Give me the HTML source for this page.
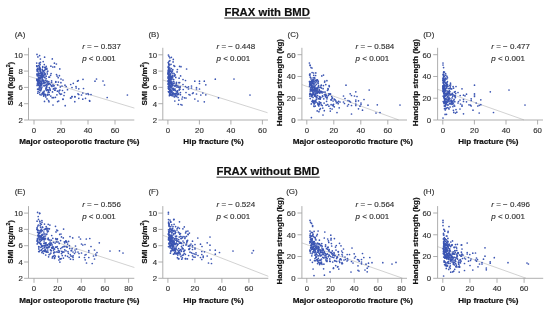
<!DOCTYPE html>
<html><head><meta charset="utf-8"><title>FRAX scatter plots</title>
<style>html,body{margin:0;padding:0;background:#fff}svg{display:block;filter:blur(0.35px)}</style></head>
<body>
<svg width="550" height="311" viewBox="0 0 550 311" font-family="'Liberation Sans', Arial, sans-serif">
<rect width="550" height="311" fill="#fff"/>
<text x="267.2" y="16.2" text-anchor="middle" font-size="11.3" font-weight="bold" fill="#111" stroke="#111" stroke-width="0.2">FRAX with BMD</text>
<rect x="224.3" y="17.6" width="85.8" height="0.9" fill="#111"/>
<text x="268" y="174.8" text-anchor="middle" font-size="11.3" font-weight="bold" fill="#111" stroke="#111" stroke-width="0.2">FRAX without BMD</text>
<rect x="216.5" y="176.7" width="103.2" height="0.9" fill="#111"/>
<g transform="translate(0,0.0)">
<text x="14.7" y="36.9" font-size="8.0" fill="#333" stroke="#333" stroke-width="0.15">(A)</text>
<text x="82.2" y="48.7" font-size="8.0" fill="#333" stroke="#333" stroke-width="0.15"><tspan font-style="italic">r</tspan> = − 0.537</text>
<text x="82.2" y="60.55" font-size="8.0" fill="#333" stroke="#333" stroke-width="0.15"><tspan font-style="italic">p</tspan> &lt; 0.001</text>
<line x1="28.5" y1="76.2" x2="134.4" y2="108.1" stroke="#cdcdcd" stroke-width="0.9"/>
<path d="M28.5 47.8V120.0H134.3" fill="none" stroke="#a0a0a0" stroke-width="0.85"/>
<line x1="24.1" y1="120.00" x2="28.5" y2="120.00" stroke="#a0a0a0" stroke-width="0.85"/>
<text x="22.9" y="122.80" text-anchor="end" font-size="7.8" fill="#333" stroke="#333" stroke-width="0.15">2</text>
<line x1="24.1" y1="103.70" x2="28.5" y2="103.70" stroke="#a0a0a0" stroke-width="0.85"/>
<text x="22.9" y="106.50" text-anchor="end" font-size="7.8" fill="#333" stroke="#333" stroke-width="0.15">4</text>
<line x1="24.1" y1="87.40" x2="28.5" y2="87.40" stroke="#a0a0a0" stroke-width="0.85"/>
<text x="22.9" y="90.20" text-anchor="end" font-size="7.8" fill="#333" stroke="#333" stroke-width="0.15">6</text>
<line x1="24.1" y1="71.10" x2="28.5" y2="71.10" stroke="#a0a0a0" stroke-width="0.85"/>
<text x="22.9" y="73.90" text-anchor="end" font-size="7.8" fill="#333" stroke="#333" stroke-width="0.15">8</text>
<line x1="24.1" y1="54.80" x2="28.5" y2="54.80" stroke="#a0a0a0" stroke-width="0.85"/>
<text x="22.9" y="57.60" text-anchor="end" font-size="7.8" fill="#333" stroke="#333" stroke-width="0.15">10</text>
<line x1="34.00" y1="120.0" x2="34.00" y2="124.5" stroke="#a0a0a0" stroke-width="0.85"/>
<text x="34.00" y="132.90" text-anchor="middle" font-size="7.8" fill="#333" stroke="#333" stroke-width="0.15">0</text>
<line x1="61.00" y1="120.0" x2="61.00" y2="124.5" stroke="#a0a0a0" stroke-width="0.85"/>
<text x="61.00" y="132.90" text-anchor="middle" font-size="7.8" fill="#333" stroke="#333" stroke-width="0.15">20</text>
<line x1="88.00" y1="120.0" x2="88.00" y2="124.5" stroke="#a0a0a0" stroke-width="0.85"/>
<text x="88.00" y="132.90" text-anchor="middle" font-size="7.8" fill="#333" stroke="#333" stroke-width="0.15">40</text>
<line x1="115.00" y1="120.0" x2="115.00" y2="124.5" stroke="#a0a0a0" stroke-width="0.85"/>
<text x="115.00" y="132.90" text-anchor="middle" font-size="7.8" fill="#333" stroke="#333" stroke-width="0.15">60</text>
<text x="79.3" y="144.3" text-anchor="middle" font-size="8.1" font-weight="bold" fill="#111" stroke="#111" stroke-width="0.2">Major osteoporotic fracture (%)</text>
<text transform="translate(13.0,83.6) rotate(-90)" text-anchor="middle" font-size="8.1" font-weight="bold" fill="#111" stroke="#111" stroke-width="0.2">SMI (kg/m<tspan font-size="5.2" dy="-3">2</tspan><tspan dy="3">)</tspan></text>
<g fill="#3b55b2">
<circle cx="36.7" cy="63.1" r="0.85"/>
<circle cx="36.8" cy="66.2" r="0.85"/>
<circle cx="36.8" cy="80.1" r="0.85"/>
<circle cx="36.8" cy="65.8" r="0.85"/>
<circle cx="36.9" cy="79.3" r="0.85"/>
<circle cx="36.9" cy="66.4" r="0.85"/>
<circle cx="37.0" cy="69.9" r="0.85"/>
<circle cx="37.0" cy="79.3" r="0.85"/>
<circle cx="37.1" cy="85.5" r="0.85"/>
<circle cx="37.1" cy="73.8" r="0.85"/>
<circle cx="37.1" cy="74.6" r="0.85"/>
<circle cx="37.2" cy="71.3" r="0.85"/>
<circle cx="37.3" cy="75.0" r="0.85"/>
<circle cx="37.3" cy="69.5" r="0.85"/>
<circle cx="37.3" cy="83.9" r="0.85"/>
<circle cx="37.4" cy="75.9" r="0.85"/>
<circle cx="37.4" cy="80.8" r="0.85"/>
<circle cx="37.5" cy="68.3" r="0.85"/>
<circle cx="37.6" cy="89.2" r="0.85"/>
<circle cx="37.6" cy="81.9" r="0.85"/>
<circle cx="37.7" cy="80.1" r="0.85"/>
<circle cx="37.7" cy="70.7" r="0.85"/>
<circle cx="37.8" cy="93.2" r="0.85"/>
<circle cx="37.8" cy="81.5" r="0.85"/>
<circle cx="37.9" cy="56.9" r="0.85"/>
<circle cx="37.9" cy="81.4" r="0.85"/>
<circle cx="38.0" cy="79.4" r="0.85"/>
<circle cx="38.1" cy="74.9" r="0.85"/>
<circle cx="38.1" cy="91.4" r="0.85"/>
<circle cx="38.1" cy="83.5" r="0.85"/>
<circle cx="38.2" cy="80.9" r="0.85"/>
<circle cx="38.3" cy="84.7" r="0.85"/>
<circle cx="38.3" cy="84.2" r="0.85"/>
<circle cx="38.4" cy="83.6" r="0.85"/>
<circle cx="38.4" cy="72.0" r="0.85"/>
<circle cx="38.4" cy="82.1" r="0.85"/>
<circle cx="38.5" cy="85.3" r="0.85"/>
<circle cx="38.5" cy="77.3" r="0.85"/>
<circle cx="38.6" cy="81.9" r="0.85"/>
<circle cx="38.6" cy="73.6" r="0.85"/>
<circle cx="38.6" cy="79.7" r="0.85"/>
<circle cx="38.6" cy="79.0" r="0.85"/>
<circle cx="38.7" cy="80.0" r="0.85"/>
<circle cx="38.7" cy="65.5" r="0.85"/>
<circle cx="38.8" cy="80.9" r="0.85"/>
<circle cx="38.8" cy="75.8" r="0.85"/>
<circle cx="38.8" cy="89.4" r="0.85"/>
<circle cx="38.8" cy="89.0" r="0.85"/>
<circle cx="38.9" cy="78.5" r="0.85"/>
<circle cx="38.9" cy="74.9" r="0.85"/>
<circle cx="39.0" cy="69.5" r="0.85"/>
<circle cx="39.0" cy="81.0" r="0.85"/>
<circle cx="39.0" cy="84.3" r="0.85"/>
<circle cx="39.1" cy="75.4" r="0.85"/>
<circle cx="39.1" cy="68.9" r="0.85"/>
<circle cx="39.2" cy="68.9" r="0.85"/>
<circle cx="39.2" cy="78.3" r="0.85"/>
<circle cx="39.2" cy="87.8" r="0.85"/>
<circle cx="39.3" cy="63.0" r="0.85"/>
<circle cx="39.3" cy="66.4" r="0.85"/>
<circle cx="39.3" cy="67.5" r="0.85"/>
<circle cx="39.4" cy="83.3" r="0.85"/>
<circle cx="39.4" cy="63.7" r="0.85"/>
<circle cx="39.5" cy="86.0" r="0.85"/>
<circle cx="39.5" cy="92.5" r="0.85"/>
<circle cx="39.6" cy="80.4" r="0.85"/>
<circle cx="39.6" cy="68.1" r="0.85"/>
<circle cx="39.7" cy="82.7" r="0.85"/>
<circle cx="39.7" cy="73.3" r="0.85"/>
<circle cx="39.7" cy="77.4" r="0.85"/>
<circle cx="39.8" cy="86.1" r="0.85"/>
<circle cx="39.8" cy="67.3" r="0.85"/>
<circle cx="39.8" cy="87.0" r="0.85"/>
<circle cx="39.9" cy="90.5" r="0.85"/>
<circle cx="39.9" cy="94.4" r="0.85"/>
<circle cx="40.0" cy="88.8" r="0.85"/>
<circle cx="40.0" cy="71.0" r="0.85"/>
<circle cx="40.1" cy="77.4" r="0.85"/>
<circle cx="40.1" cy="64.7" r="0.85"/>
<circle cx="40.2" cy="70.6" r="0.85"/>
<circle cx="40.2" cy="85.6" r="0.85"/>
<circle cx="40.3" cy="68.7" r="0.85"/>
<circle cx="40.3" cy="81.5" r="0.85"/>
<circle cx="40.3" cy="78.6" r="0.85"/>
<circle cx="40.4" cy="62.4" r="0.85"/>
<circle cx="40.4" cy="75.6" r="0.85"/>
<circle cx="40.5" cy="69.6" r="0.85"/>
<circle cx="40.5" cy="78.6" r="0.85"/>
<circle cx="40.5" cy="83.7" r="0.85"/>
<circle cx="40.6" cy="73.2" r="0.85"/>
<circle cx="40.6" cy="90.7" r="0.85"/>
<circle cx="40.7" cy="71.4" r="0.85"/>
<circle cx="40.7" cy="85.0" r="0.85"/>
<circle cx="40.7" cy="81.1" r="0.85"/>
<circle cx="40.8" cy="77.8" r="0.85"/>
<circle cx="40.8" cy="90.0" r="0.85"/>
<circle cx="40.9" cy="77.1" r="0.85"/>
<circle cx="40.9" cy="83.7" r="0.85"/>
<circle cx="40.9" cy="87.3" r="0.85"/>
<circle cx="41.0" cy="84.5" r="0.85"/>
<circle cx="41.0" cy="85.7" r="0.85"/>
<circle cx="41.1" cy="75.0" r="0.85"/>
<circle cx="41.1" cy="94.9" r="0.85"/>
<circle cx="41.2" cy="77.0" r="0.85"/>
<circle cx="41.2" cy="72.6" r="0.85"/>
<circle cx="41.2" cy="73.3" r="0.85"/>
<circle cx="41.3" cy="89.0" r="0.85"/>
<circle cx="41.3" cy="74.9" r="0.85"/>
<circle cx="41.4" cy="88.6" r="0.85"/>
<circle cx="41.4" cy="82.3" r="0.85"/>
<circle cx="41.4" cy="76.9" r="0.85"/>
<circle cx="41.5" cy="83.9" r="0.85"/>
<circle cx="41.5" cy="82.7" r="0.85"/>
<circle cx="41.6" cy="83.0" r="0.85"/>
<circle cx="41.6" cy="75.4" r="0.85"/>
<circle cx="41.7" cy="72.5" r="0.85"/>
<circle cx="41.7" cy="76.5" r="0.85"/>
<circle cx="41.7" cy="83.6" r="0.85"/>
<circle cx="41.8" cy="84.9" r="0.85"/>
<circle cx="41.8" cy="75.1" r="0.85"/>
<circle cx="41.9" cy="83.3" r="0.85"/>
<circle cx="41.9" cy="81.2" r="0.85"/>
<circle cx="42.0" cy="87.0" r="0.85"/>
<circle cx="42.0" cy="73.8" r="0.85"/>
<circle cx="42.1" cy="93.7" r="0.85"/>
<circle cx="42.1" cy="78.9" r="0.85"/>
<circle cx="42.2" cy="80.1" r="0.85"/>
<circle cx="42.2" cy="76.8" r="0.85"/>
<circle cx="42.3" cy="69.4" r="0.85"/>
<circle cx="42.3" cy="73.2" r="0.85"/>
<circle cx="42.4" cy="77.8" r="0.85"/>
<circle cx="42.4" cy="75.1" r="0.85"/>
<circle cx="42.5" cy="70.3" r="0.85"/>
<circle cx="42.5" cy="93.3" r="0.85"/>
<circle cx="42.6" cy="74.3" r="0.85"/>
<circle cx="42.7" cy="76.9" r="0.85"/>
<circle cx="42.7" cy="66.5" r="0.85"/>
<circle cx="42.7" cy="67.3" r="0.85"/>
<circle cx="42.8" cy="79.8" r="0.85"/>
<circle cx="42.9" cy="76.5" r="0.85"/>
<circle cx="42.9" cy="80.4" r="0.85"/>
<circle cx="42.9" cy="92.3" r="0.85"/>
<circle cx="43.0" cy="76.5" r="0.85"/>
<circle cx="43.1" cy="73.0" r="0.85"/>
<circle cx="43.1" cy="94.2" r="0.85"/>
<circle cx="43.2" cy="61.6" r="0.85"/>
<circle cx="43.2" cy="71.6" r="0.85"/>
<circle cx="43.3" cy="92.5" r="0.85"/>
<circle cx="43.3" cy="71.1" r="0.85"/>
<circle cx="43.4" cy="81.3" r="0.85"/>
<circle cx="43.4" cy="71.0" r="0.85"/>
<circle cx="43.5" cy="80.7" r="0.85"/>
<circle cx="43.6" cy="81.6" r="0.85"/>
<circle cx="43.6" cy="95.6" r="0.85"/>
<circle cx="43.7" cy="96.1" r="0.85"/>
<circle cx="43.7" cy="75.2" r="0.85"/>
<circle cx="43.8" cy="92.0" r="0.85"/>
<circle cx="43.8" cy="82.9" r="0.85"/>
<circle cx="43.9" cy="93.4" r="0.85"/>
<circle cx="44.0" cy="83.6" r="0.85"/>
<circle cx="44.0" cy="85.6" r="0.85"/>
<circle cx="44.1" cy="85.8" r="0.85"/>
<circle cx="44.1" cy="94.6" r="0.85"/>
<circle cx="44.2" cy="91.1" r="0.85"/>
<circle cx="44.3" cy="64.6" r="0.85"/>
<circle cx="44.4" cy="82.4" r="0.85"/>
<circle cx="44.4" cy="72.8" r="0.85"/>
<circle cx="44.5" cy="77.6" r="0.85"/>
<circle cx="44.5" cy="101.4" r="0.85"/>
<circle cx="44.6" cy="57.2" r="0.85"/>
<circle cx="44.7" cy="70.7" r="0.85"/>
<circle cx="44.7" cy="67.3" r="0.85"/>
<circle cx="44.8" cy="77.2" r="0.85"/>
<circle cx="44.9" cy="74.6" r="0.85"/>
<circle cx="45.0" cy="74.7" r="0.85"/>
<circle cx="45.1" cy="73.7" r="0.85"/>
<circle cx="45.2" cy="94.3" r="0.85"/>
<circle cx="45.2" cy="80.4" r="0.85"/>
<circle cx="45.3" cy="69.2" r="0.85"/>
<circle cx="45.4" cy="85.3" r="0.85"/>
<circle cx="45.4" cy="69.0" r="0.85"/>
<circle cx="45.5" cy="94.8" r="0.85"/>
<circle cx="45.6" cy="67.5" r="0.85"/>
<circle cx="45.6" cy="95.4" r="0.85"/>
<circle cx="45.8" cy="96.9" r="0.85"/>
<circle cx="45.8" cy="82.7" r="0.85"/>
<circle cx="45.9" cy="88.0" r="0.85"/>
<circle cx="46.0" cy="89.6" r="0.85"/>
<circle cx="46.1" cy="78.7" r="0.85"/>
<circle cx="46.1" cy="88.6" r="0.85"/>
<circle cx="46.2" cy="66.3" r="0.85"/>
<circle cx="46.2" cy="76.2" r="0.85"/>
<circle cx="46.4" cy="84.3" r="0.85"/>
<circle cx="46.5" cy="90.5" r="0.85"/>
<circle cx="46.5" cy="86.5" r="0.85"/>
<circle cx="46.6" cy="81.0" r="0.85"/>
<circle cx="46.7" cy="87.2" r="0.85"/>
<circle cx="46.8" cy="69.3" r="0.85"/>
<circle cx="46.8" cy="68.3" r="0.85"/>
<circle cx="47.0" cy="98.9" r="0.85"/>
<circle cx="47.0" cy="85.4" r="0.85"/>
<circle cx="47.1" cy="81.1" r="0.85"/>
<circle cx="47.2" cy="72.0" r="0.85"/>
<circle cx="47.3" cy="73.9" r="0.85"/>
<circle cx="47.4" cy="94.9" r="0.85"/>
<circle cx="47.5" cy="82.0" r="0.85"/>
<circle cx="47.5" cy="89.5" r="0.85"/>
<circle cx="47.7" cy="94.4" r="0.85"/>
<circle cx="47.7" cy="94.8" r="0.85"/>
<circle cx="47.8" cy="71.2" r="0.85"/>
<circle cx="47.9" cy="83.9" r="0.85"/>
<circle cx="48.0" cy="90.1" r="0.85"/>
<circle cx="48.1" cy="83.2" r="0.85"/>
<circle cx="48.2" cy="90.2" r="0.85"/>
<circle cx="48.3" cy="84.4" r="0.85"/>
<circle cx="48.3" cy="92.4" r="0.85"/>
<circle cx="48.4" cy="91.9" r="0.85"/>
<circle cx="48.6" cy="100.7" r="0.85"/>
<circle cx="48.8" cy="77.0" r="0.85"/>
<circle cx="48.8" cy="81.6" r="0.85"/>
<circle cx="49.1" cy="92.3" r="0.85"/>
<circle cx="49.2" cy="94.7" r="0.85"/>
<circle cx="49.3" cy="87.6" r="0.85"/>
<circle cx="49.5" cy="77.2" r="0.85"/>
<circle cx="49.6" cy="83.7" r="0.85"/>
<circle cx="49.9" cy="88.9" r="0.85"/>
<circle cx="50.0" cy="89.8" r="0.85"/>
<circle cx="50.2" cy="90.3" r="0.85"/>
<circle cx="50.3" cy="84.5" r="0.85"/>
<circle cx="50.6" cy="75.3" r="0.85"/>
<circle cx="50.8" cy="96.1" r="0.85"/>
<circle cx="50.9" cy="66.2" r="0.85"/>
<circle cx="51.1" cy="73.5" r="0.85"/>
<circle cx="51.3" cy="85.7" r="0.85"/>
<circle cx="51.6" cy="80.9" r="0.85"/>
<circle cx="51.6" cy="82.5" r="0.85"/>
<circle cx="51.8" cy="85.6" r="0.85"/>
<circle cx="52.0" cy="86.5" r="0.85"/>
<circle cx="52.2" cy="97.7" r="0.85"/>
<circle cx="52.3" cy="58.9" r="0.85"/>
<circle cx="52.5" cy="91.9" r="0.85"/>
<circle cx="52.8" cy="67.0" r="0.85"/>
<circle cx="53.0" cy="84.8" r="0.85"/>
<circle cx="53.3" cy="89.0" r="0.85"/>
<circle cx="53.5" cy="86.0" r="0.85"/>
<circle cx="53.6" cy="97.7" r="0.85"/>
<circle cx="53.8" cy="88.5" r="0.85"/>
<circle cx="54.1" cy="85.6" r="0.85"/>
<circle cx="54.4" cy="63.2" r="0.85"/>
<circle cx="54.6" cy="66.9" r="0.85"/>
<circle cx="54.7" cy="90.2" r="0.85"/>
<circle cx="55.0" cy="88.2" r="0.85"/>
<circle cx="55.3" cy="90.0" r="0.85"/>
<circle cx="55.4" cy="97.3" r="0.85"/>
<circle cx="55.7" cy="82.2" r="0.85"/>
<circle cx="55.8" cy="81.7" r="0.85"/>
<circle cx="56.0" cy="88.3" r="0.85"/>
<circle cx="56.4" cy="64.0" r="0.85"/>
<circle cx="56.5" cy="74.6" r="0.85"/>
<circle cx="56.9" cy="94.8" r="0.85"/>
<circle cx="57.1" cy="76.1" r="0.85"/>
<circle cx="57.4" cy="91.2" r="0.85"/>
<circle cx="57.6" cy="101.6" r="0.85"/>
<circle cx="57.7" cy="84.9" r="0.85"/>
<circle cx="58.2" cy="77.7" r="0.85"/>
<circle cx="58.4" cy="82.1" r="0.85"/>
<circle cx="58.7" cy="101.0" r="0.85"/>
<circle cx="58.9" cy="92.0" r="0.85"/>
<circle cx="59.2" cy="90.7" r="0.85"/>
<circle cx="59.4" cy="75.7" r="0.85"/>
<circle cx="59.6" cy="93.5" r="0.85"/>
<circle cx="59.9" cy="90.1" r="0.85"/>
<circle cx="60.3" cy="86.9" r="0.85"/>
<circle cx="60.5" cy="94.3" r="0.85"/>
<circle cx="60.9" cy="82.7" r="0.85"/>
<circle cx="83.0" cy="79.3" r="0.85"/>
<circle cx="78.3" cy="80.5" r="0.85"/>
<circle cx="77.5" cy="81.2" r="0.85"/>
<circle cx="73.3" cy="83.3" r="0.85"/>
<circle cx="70.7" cy="84.5" r="0.85"/>
<circle cx="65.0" cy="85.2" r="0.85"/>
<circle cx="66.2" cy="86.5" r="0.85"/>
<circle cx="62.0" cy="86.0" r="0.85"/>
<circle cx="63.0" cy="80.0" r="0.85"/>
<circle cx="61.0" cy="79.0" r="0.85"/>
<circle cx="72.0" cy="87.5" r="0.85"/>
<circle cx="76.0" cy="86.5" r="0.85"/>
<circle cx="76.2" cy="88.0" r="0.85"/>
<circle cx="78.8" cy="88.8" r="0.85"/>
<circle cx="83.5" cy="88.5" r="0.85"/>
<circle cx="67.5" cy="89.7" r="0.85"/>
<circle cx="62.5" cy="90.5" r="0.85"/>
<circle cx="64.5" cy="92.5" r="0.85"/>
<circle cx="61.5" cy="94.0" r="0.85"/>
<circle cx="64.0" cy="95.5" r="0.85"/>
<circle cx="78.0" cy="93.8" r="0.85"/>
<circle cx="78.8" cy="94.5" r="0.85"/>
<circle cx="82.8" cy="93.0" r="0.85"/>
<circle cx="81.5" cy="95.0" r="0.85"/>
<circle cx="86.2" cy="94.0" r="0.85"/>
<circle cx="88.0" cy="93.5" r="0.85"/>
<circle cx="88.5" cy="94.5" r="0.85"/>
<circle cx="91.0" cy="94.5" r="0.85"/>
<circle cx="72.0" cy="96.5" r="0.85"/>
<circle cx="70.5" cy="98.0" r="0.85"/>
<circle cx="75.0" cy="96.8" r="0.85"/>
<circle cx="78.8" cy="98.3" r="0.85"/>
<circle cx="82.8" cy="99.2" r="0.85"/>
<circle cx="85.5" cy="98.3" r="0.85"/>
<circle cx="63.0" cy="99.3" r="0.85"/>
<circle cx="89.5" cy="100.5" r="0.85"/>
<circle cx="96.5" cy="79.0" r="0.85"/>
<circle cx="95.0" cy="81.2" r="0.85"/>
<circle cx="103.0" cy="81.0" r="0.85"/>
<circle cx="104.5" cy="85.0" r="0.85"/>
<circle cx="107.2" cy="97.5" r="0.85"/>
<circle cx="127.4" cy="95.0" r="0.85"/>
<circle cx="65.2" cy="105.7" r="0.85"/>
<circle cx="74.8" cy="101.7" r="0.85"/>
<circle cx="71.0" cy="98.0" r="0.85"/>
<circle cx="72.0" cy="96.7" r="0.85"/>
<circle cx="74.8" cy="96.7" r="0.85"/>
<circle cx="89.7" cy="101.2" r="0.85"/>
<circle cx="63.0" cy="99.2" r="0.85"/>
<circle cx="37.0" cy="54.4" r="0.85"/>
<circle cx="39.6" cy="55.6" r="0.85"/>
<circle cx="40.4" cy="59.0" r="0.85"/>
<circle cx="59.8" cy="68.9" r="0.85"/>
<circle cx="53.0" cy="105.0" r="0.85"/>
<circle cx="49.0" cy="101.8" r="0.85"/>
</g>
</g>
<g transform="translate(0,0.0)">
<text x="148.4" y="36.9" font-size="8.0" fill="#333" stroke="#333" stroke-width="0.15">(B)</text>
<text x="216.5" y="48.7" font-size="8.0" fill="#333" stroke="#333" stroke-width="0.15"><tspan font-style="italic">r</tspan> = − 0.448</text>
<text x="216.5" y="60.55" font-size="8.0" fill="#333" stroke="#333" stroke-width="0.15"><tspan font-style="italic">p</tspan> &lt; 0.001</text>
<line x1="162.8" y1="80.0" x2="267.5" y2="112.7" stroke="#cdcdcd" stroke-width="0.9"/>
<path d="M162.8 47.8V120.0H268.0" fill="none" stroke="#a0a0a0" stroke-width="0.85"/>
<line x1="158.4" y1="120.00" x2="162.8" y2="120.00" stroke="#a0a0a0" stroke-width="0.85"/>
<text x="157.2" y="122.80" text-anchor="end" font-size="7.8" fill="#333" stroke="#333" stroke-width="0.15">2</text>
<line x1="158.4" y1="103.70" x2="162.8" y2="103.70" stroke="#a0a0a0" stroke-width="0.85"/>
<text x="157.2" y="106.50" text-anchor="end" font-size="7.8" fill="#333" stroke="#333" stroke-width="0.15">4</text>
<line x1="158.4" y1="87.40" x2="162.8" y2="87.40" stroke="#a0a0a0" stroke-width="0.85"/>
<text x="157.2" y="90.20" text-anchor="end" font-size="7.8" fill="#333" stroke="#333" stroke-width="0.15">6</text>
<line x1="158.4" y1="71.10" x2="162.8" y2="71.10" stroke="#a0a0a0" stroke-width="0.85"/>
<text x="157.2" y="73.90" text-anchor="end" font-size="7.8" fill="#333" stroke="#333" stroke-width="0.15">8</text>
<line x1="158.4" y1="54.80" x2="162.8" y2="54.80" stroke="#a0a0a0" stroke-width="0.85"/>
<text x="157.2" y="57.60" text-anchor="end" font-size="7.8" fill="#333" stroke="#333" stroke-width="0.15">10</text>
<line x1="167.90" y1="120.0" x2="167.90" y2="124.5" stroke="#a0a0a0" stroke-width="0.85"/>
<text x="167.90" y="132.90" text-anchor="middle" font-size="7.8" fill="#333" stroke="#333" stroke-width="0.15">0</text>
<line x1="199.40" y1="120.0" x2="199.40" y2="124.5" stroke="#a0a0a0" stroke-width="0.85"/>
<text x="199.40" y="132.90" text-anchor="middle" font-size="7.8" fill="#333" stroke="#333" stroke-width="0.15">20</text>
<line x1="230.90" y1="120.0" x2="230.90" y2="124.5" stroke="#a0a0a0" stroke-width="0.85"/>
<text x="230.90" y="132.90" text-anchor="middle" font-size="7.8" fill="#333" stroke="#333" stroke-width="0.15">40</text>
<line x1="262.40" y1="120.0" x2="262.40" y2="124.5" stroke="#a0a0a0" stroke-width="0.85"/>
<text x="262.40" y="132.90" text-anchor="middle" font-size="7.8" fill="#333" stroke="#333" stroke-width="0.15">60</text>
<text x="213.5" y="144.3" text-anchor="middle" font-size="8.1" font-weight="bold" fill="#111" stroke="#111" stroke-width="0.2">Hip fracture (%)</text>
<text transform="translate(147.3,83.6) rotate(-90)" text-anchor="middle" font-size="8.1" font-weight="bold" fill="#111" stroke="#111" stroke-width="0.2">SMI (kg/m<tspan font-size="5.2" dy="-3">2</tspan><tspan dy="3">)</tspan></text>
<g fill="#3b55b2">
<circle cx="168.2" cy="73.6" r="0.85"/>
<circle cx="168.2" cy="62.6" r="0.85"/>
<circle cx="168.2" cy="73.8" r="0.85"/>
<circle cx="168.2" cy="81.4" r="0.85"/>
<circle cx="168.3" cy="80.5" r="0.85"/>
<circle cx="168.3" cy="84.2" r="0.85"/>
<circle cx="168.3" cy="74.0" r="0.85"/>
<circle cx="168.3" cy="66.4" r="0.85"/>
<circle cx="168.3" cy="70.4" r="0.85"/>
<circle cx="168.3" cy="76.4" r="0.85"/>
<circle cx="168.3" cy="77.6" r="0.85"/>
<circle cx="168.3" cy="86.4" r="0.85"/>
<circle cx="168.3" cy="73.0" r="0.85"/>
<circle cx="168.3" cy="67.6" r="0.85"/>
<circle cx="168.4" cy="74.5" r="0.85"/>
<circle cx="168.4" cy="88.2" r="0.85"/>
<circle cx="168.4" cy="78.2" r="0.85"/>
<circle cx="168.4" cy="83.9" r="0.85"/>
<circle cx="168.4" cy="71.7" r="0.85"/>
<circle cx="168.4" cy="70.1" r="0.85"/>
<circle cx="168.4" cy="72.4" r="0.85"/>
<circle cx="168.4" cy="91.6" r="0.85"/>
<circle cx="168.5" cy="67.6" r="0.85"/>
<circle cx="168.5" cy="83.8" r="0.85"/>
<circle cx="168.5" cy="71.7" r="0.85"/>
<circle cx="168.5" cy="72.4" r="0.85"/>
<circle cx="168.5" cy="78.4" r="0.85"/>
<circle cx="168.5" cy="82.0" r="0.85"/>
<circle cx="168.5" cy="83.4" r="0.85"/>
<circle cx="168.6" cy="88.7" r="0.85"/>
<circle cx="168.6" cy="77.5" r="0.85"/>
<circle cx="168.6" cy="77.3" r="0.85"/>
<circle cx="168.6" cy="80.7" r="0.85"/>
<circle cx="168.6" cy="80.6" r="0.85"/>
<circle cx="168.6" cy="87.3" r="0.85"/>
<circle cx="168.6" cy="77.9" r="0.85"/>
<circle cx="168.7" cy="76.8" r="0.85"/>
<circle cx="168.7" cy="76.2" r="0.85"/>
<circle cx="168.7" cy="84.2" r="0.85"/>
<circle cx="168.7" cy="80.7" r="0.85"/>
<circle cx="168.7" cy="63.6" r="0.85"/>
<circle cx="168.7" cy="78.5" r="0.85"/>
<circle cx="168.7" cy="72.8" r="0.85"/>
<circle cx="168.7" cy="79.4" r="0.85"/>
<circle cx="168.8" cy="64.2" r="0.85"/>
<circle cx="168.8" cy="72.0" r="0.85"/>
<circle cx="168.8" cy="68.9" r="0.85"/>
<circle cx="168.8" cy="68.9" r="0.85"/>
<circle cx="168.8" cy="83.1" r="0.85"/>
<circle cx="168.8" cy="82.0" r="0.85"/>
<circle cx="168.8" cy="80.0" r="0.85"/>
<circle cx="168.8" cy="83.6" r="0.85"/>
<circle cx="168.8" cy="66.8" r="0.85"/>
<circle cx="168.9" cy="74.9" r="0.85"/>
<circle cx="168.9" cy="85.0" r="0.85"/>
<circle cx="168.9" cy="77.7" r="0.85"/>
<circle cx="168.9" cy="73.0" r="0.85"/>
<circle cx="168.9" cy="82.7" r="0.85"/>
<circle cx="168.9" cy="65.0" r="0.85"/>
<circle cx="168.9" cy="88.9" r="0.85"/>
<circle cx="169.0" cy="78.1" r="0.85"/>
<circle cx="169.0" cy="92.4" r="0.85"/>
<circle cx="169.0" cy="61.4" r="0.85"/>
<circle cx="169.0" cy="81.6" r="0.85"/>
<circle cx="169.0" cy="78.0" r="0.85"/>
<circle cx="169.0" cy="74.6" r="0.85"/>
<circle cx="169.1" cy="84.2" r="0.85"/>
<circle cx="169.1" cy="70.1" r="0.85"/>
<circle cx="169.1" cy="78.2" r="0.85"/>
<circle cx="169.1" cy="88.9" r="0.85"/>
<circle cx="169.1" cy="89.0" r="0.85"/>
<circle cx="169.2" cy="75.0" r="0.85"/>
<circle cx="169.2" cy="72.1" r="0.85"/>
<circle cx="169.2" cy="77.5" r="0.85"/>
<circle cx="169.2" cy="88.4" r="0.85"/>
<circle cx="169.2" cy="88.6" r="0.85"/>
<circle cx="169.3" cy="79.1" r="0.85"/>
<circle cx="169.3" cy="80.1" r="0.85"/>
<circle cx="169.3" cy="83.0" r="0.85"/>
<circle cx="169.3" cy="81.2" r="0.85"/>
<circle cx="169.3" cy="74.3" r="0.85"/>
<circle cx="169.3" cy="82.8" r="0.85"/>
<circle cx="169.4" cy="85.5" r="0.85"/>
<circle cx="169.4" cy="80.0" r="0.85"/>
<circle cx="169.4" cy="77.9" r="0.85"/>
<circle cx="169.4" cy="95.7" r="0.85"/>
<circle cx="169.4" cy="79.8" r="0.85"/>
<circle cx="169.4" cy="71.2" r="0.85"/>
<circle cx="169.5" cy="82.4" r="0.85"/>
<circle cx="169.5" cy="75.2" r="0.85"/>
<circle cx="169.5" cy="83.5" r="0.85"/>
<circle cx="169.5" cy="86.1" r="0.85"/>
<circle cx="169.5" cy="81.7" r="0.85"/>
<circle cx="169.6" cy="64.9" r="0.85"/>
<circle cx="169.6" cy="86.0" r="0.85"/>
<circle cx="169.6" cy="86.7" r="0.85"/>
<circle cx="169.6" cy="70.8" r="0.85"/>
<circle cx="169.6" cy="76.6" r="0.85"/>
<circle cx="169.6" cy="94.6" r="0.85"/>
<circle cx="169.7" cy="67.9" r="0.85"/>
<circle cx="169.7" cy="81.4" r="0.85"/>
<circle cx="169.7" cy="80.0" r="0.85"/>
<circle cx="169.7" cy="82.2" r="0.85"/>
<circle cx="169.7" cy="81.5" r="0.85"/>
<circle cx="169.8" cy="91.6" r="0.85"/>
<circle cx="169.8" cy="74.3" r="0.85"/>
<circle cx="169.8" cy="90.6" r="0.85"/>
<circle cx="169.8" cy="93.0" r="0.85"/>
<circle cx="169.9" cy="60.7" r="0.85"/>
<circle cx="169.9" cy="82.6" r="0.85"/>
<circle cx="169.9" cy="57.8" r="0.85"/>
<circle cx="169.9" cy="83.1" r="0.85"/>
<circle cx="170.0" cy="69.4" r="0.85"/>
<circle cx="170.0" cy="90.4" r="0.85"/>
<circle cx="170.0" cy="78.5" r="0.85"/>
<circle cx="170.0" cy="88.0" r="0.85"/>
<circle cx="170.1" cy="77.5" r="0.85"/>
<circle cx="170.1" cy="89.6" r="0.85"/>
<circle cx="170.1" cy="70.9" r="0.85"/>
<circle cx="170.1" cy="94.2" r="0.85"/>
<circle cx="170.1" cy="93.5" r="0.85"/>
<circle cx="170.2" cy="82.1" r="0.85"/>
<circle cx="170.2" cy="75.2" r="0.85"/>
<circle cx="170.2" cy="77.1" r="0.85"/>
<circle cx="170.2" cy="90.9" r="0.85"/>
<circle cx="170.3" cy="91.6" r="0.85"/>
<circle cx="170.3" cy="86.7" r="0.85"/>
<circle cx="170.3" cy="77.3" r="0.85"/>
<circle cx="170.4" cy="95.0" r="0.85"/>
<circle cx="170.4" cy="82.3" r="0.85"/>
<circle cx="170.4" cy="74.2" r="0.85"/>
<circle cx="170.5" cy="85.0" r="0.85"/>
<circle cx="170.5" cy="91.9" r="0.85"/>
<circle cx="170.5" cy="86.0" r="0.85"/>
<circle cx="170.5" cy="73.9" r="0.85"/>
<circle cx="170.6" cy="85.3" r="0.85"/>
<circle cx="170.6" cy="79.7" r="0.85"/>
<circle cx="170.6" cy="79.5" r="0.85"/>
<circle cx="170.6" cy="76.9" r="0.85"/>
<circle cx="170.7" cy="82.8" r="0.85"/>
<circle cx="170.7" cy="95.0" r="0.85"/>
<circle cx="170.7" cy="86.9" r="0.85"/>
<circle cx="170.8" cy="76.7" r="0.85"/>
<circle cx="170.8" cy="71.4" r="0.85"/>
<circle cx="170.8" cy="77.9" r="0.85"/>
<circle cx="170.9" cy="89.5" r="0.85"/>
<circle cx="170.9" cy="82.4" r="0.85"/>
<circle cx="170.9" cy="80.0" r="0.85"/>
<circle cx="171.0" cy="64.3" r="0.85"/>
<circle cx="171.0" cy="94.7" r="0.85"/>
<circle cx="171.1" cy="78.0" r="0.85"/>
<circle cx="171.1" cy="90.8" r="0.85"/>
<circle cx="171.1" cy="83.6" r="0.85"/>
<circle cx="171.2" cy="87.9" r="0.85"/>
<circle cx="171.2" cy="91.4" r="0.85"/>
<circle cx="171.3" cy="68.7" r="0.85"/>
<circle cx="171.3" cy="81.8" r="0.85"/>
<circle cx="171.3" cy="83.2" r="0.85"/>
<circle cx="171.4" cy="72.7" r="0.85"/>
<circle cx="171.4" cy="57.3" r="0.85"/>
<circle cx="171.5" cy="86.8" r="0.85"/>
<circle cx="171.5" cy="84.3" r="0.85"/>
<circle cx="171.6" cy="77.4" r="0.85"/>
<circle cx="171.6" cy="91.2" r="0.85"/>
<circle cx="171.7" cy="79.0" r="0.85"/>
<circle cx="171.7" cy="76.4" r="0.85"/>
<circle cx="171.7" cy="92.4" r="0.85"/>
<circle cx="171.8" cy="79.5" r="0.85"/>
<circle cx="171.8" cy="71.0" r="0.85"/>
<circle cx="171.9" cy="95.6" r="0.85"/>
<circle cx="172.0" cy="85.4" r="0.85"/>
<circle cx="172.0" cy="91.1" r="0.85"/>
<circle cx="172.0" cy="94.9" r="0.85"/>
<circle cx="172.1" cy="84.3" r="0.85"/>
<circle cx="172.2" cy="82.1" r="0.85"/>
<circle cx="172.2" cy="93.4" r="0.85"/>
<circle cx="172.2" cy="83.9" r="0.85"/>
<circle cx="172.3" cy="93.9" r="0.85"/>
<circle cx="172.4" cy="71.1" r="0.85"/>
<circle cx="172.5" cy="85.8" r="0.85"/>
<circle cx="172.5" cy="75.3" r="0.85"/>
<circle cx="172.5" cy="88.8" r="0.85"/>
<circle cx="172.6" cy="77.9" r="0.85"/>
<circle cx="172.7" cy="84.5" r="0.85"/>
<circle cx="172.8" cy="76.5" r="0.85"/>
<circle cx="172.8" cy="73.1" r="0.85"/>
<circle cx="172.8" cy="69.7" r="0.85"/>
<circle cx="172.9" cy="88.1" r="0.85"/>
<circle cx="172.9" cy="93.8" r="0.85"/>
<circle cx="173.0" cy="92.5" r="0.85"/>
<circle cx="173.1" cy="61.9" r="0.85"/>
<circle cx="173.1" cy="95.9" r="0.85"/>
<circle cx="173.3" cy="89.1" r="0.85"/>
<circle cx="173.3" cy="90.1" r="0.85"/>
<circle cx="173.3" cy="59.4" r="0.85"/>
<circle cx="173.5" cy="89.0" r="0.85"/>
<circle cx="173.5" cy="83.3" r="0.85"/>
<circle cx="173.6" cy="88.8" r="0.85"/>
<circle cx="173.6" cy="93.9" r="0.85"/>
<circle cx="173.7" cy="79.6" r="0.85"/>
<circle cx="173.8" cy="93.6" r="0.85"/>
<circle cx="173.8" cy="81.5" r="0.85"/>
<circle cx="173.9" cy="65.7" r="0.85"/>
<circle cx="174.0" cy="85.4" r="0.85"/>
<circle cx="174.1" cy="73.6" r="0.85"/>
<circle cx="174.2" cy="89.7" r="0.85"/>
<circle cx="174.3" cy="75.4" r="0.85"/>
<circle cx="174.4" cy="89.8" r="0.85"/>
<circle cx="174.4" cy="83.0" r="0.85"/>
<circle cx="174.4" cy="96.9" r="0.85"/>
<circle cx="174.6" cy="75.9" r="0.85"/>
<circle cx="174.7" cy="66.3" r="0.85"/>
<circle cx="174.8" cy="101.0" r="0.85"/>
<circle cx="174.8" cy="94.1" r="0.85"/>
<circle cx="174.9" cy="86.3" r="0.85"/>
<circle cx="175.0" cy="93.6" r="0.85"/>
<circle cx="175.1" cy="89.0" r="0.85"/>
<circle cx="175.1" cy="74.9" r="0.85"/>
<circle cx="175.3" cy="95.6" r="0.85"/>
<circle cx="175.3" cy="95.6" r="0.85"/>
<circle cx="175.4" cy="90.7" r="0.85"/>
<circle cx="175.5" cy="85.7" r="0.85"/>
<circle cx="175.6" cy="93.6" r="0.85"/>
<circle cx="175.8" cy="77.4" r="0.85"/>
<circle cx="175.9" cy="93.5" r="0.85"/>
<circle cx="176.0" cy="94.0" r="0.85"/>
<circle cx="176.1" cy="85.0" r="0.85"/>
<circle cx="176.2" cy="85.4" r="0.85"/>
<circle cx="176.2" cy="96.6" r="0.85"/>
<circle cx="176.4" cy="83.5" r="0.85"/>
<circle cx="176.5" cy="82.3" r="0.85"/>
<circle cx="176.6" cy="87.0" r="0.85"/>
<circle cx="176.7" cy="93.0" r="0.85"/>
<circle cx="176.9" cy="95.9" r="0.85"/>
<circle cx="176.9" cy="91.6" r="0.85"/>
<circle cx="177.1" cy="71.9" r="0.85"/>
<circle cx="177.2" cy="91.2" r="0.85"/>
<circle cx="177.3" cy="94.2" r="0.85"/>
<circle cx="177.4" cy="69.5" r="0.85"/>
<circle cx="177.6" cy="92.4" r="0.85"/>
<circle cx="177.7" cy="90.8" r="0.85"/>
<circle cx="177.8" cy="85.8" r="0.85"/>
<circle cx="177.9" cy="87.0" r="0.85"/>
<circle cx="178.1" cy="97.5" r="0.85"/>
<circle cx="178.2" cy="94.4" r="0.85"/>
<circle cx="178.3" cy="104.3" r="0.85"/>
<circle cx="178.5" cy="87.1" r="0.85"/>
<circle cx="178.7" cy="93.9" r="0.85"/>
<circle cx="178.9" cy="100.2" r="0.85"/>
<circle cx="178.9" cy="82.7" r="0.85"/>
<circle cx="179.1" cy="78.2" r="0.85"/>
<circle cx="179.2" cy="90.1" r="0.85"/>
<circle cx="179.3" cy="89.0" r="0.85"/>
<circle cx="179.6" cy="66.4" r="0.85"/>
<circle cx="179.7" cy="82.6" r="0.85"/>
<circle cx="179.9" cy="87.2" r="0.85"/>
<circle cx="180.0" cy="89.1" r="0.85"/>
<circle cx="180.2" cy="86.9" r="0.85"/>
<circle cx="180.4" cy="92.5" r="0.85"/>
<circle cx="180.4" cy="94.7" r="0.85"/>
<circle cx="180.6" cy="75.9" r="0.85"/>
<circle cx="180.9" cy="104.5" r="0.85"/>
<circle cx="181.0" cy="66.7" r="0.85"/>
<circle cx="215.3" cy="79.2" r="0.85"/>
<circle cx="218.5" cy="97.8" r="0.85"/>
<circle cx="194.8" cy="81.2" r="0.85"/>
<circle cx="199.5" cy="81.2" r="0.85"/>
<circle cx="204.3" cy="81.2" r="0.85"/>
<circle cx="199.5" cy="83.5" r="0.85"/>
<circle cx="205.8" cy="84.8" r="0.85"/>
<circle cx="191.5" cy="86.0" r="0.85"/>
<circle cx="191.5" cy="88.0" r="0.85"/>
<circle cx="188.5" cy="86.8" r="0.85"/>
<circle cx="188.5" cy="89.0" r="0.85"/>
<circle cx="187.0" cy="87.5" r="0.85"/>
<circle cx="196.5" cy="87.5" r="0.85"/>
<circle cx="196.5" cy="89.0" r="0.85"/>
<circle cx="199.5" cy="89.0" r="0.85"/>
<circle cx="185.5" cy="80.5" r="0.85"/>
<circle cx="183.0" cy="79.5" r="0.85"/>
<circle cx="183.0" cy="84.5" r="0.85"/>
<circle cx="185.5" cy="86.5" r="0.85"/>
<circle cx="183.2" cy="89.5" r="0.85"/>
<circle cx="186.0" cy="92.5" r="0.85"/>
<circle cx="189.0" cy="94.5" r="0.85"/>
<circle cx="190.0" cy="95.0" r="0.85"/>
<circle cx="192.5" cy="93.5" r="0.85"/>
<circle cx="193.2" cy="92.8" r="0.85"/>
<circle cx="196.5" cy="94.0" r="0.85"/>
<circle cx="200.8" cy="95.0" r="0.85"/>
<circle cx="202.8" cy="93.0" r="0.85"/>
<circle cx="205.8" cy="94.8" r="0.85"/>
<circle cx="194.8" cy="99.0" r="0.85"/>
<circle cx="198.0" cy="101.0" r="0.85"/>
<circle cx="204.3" cy="101.8" r="0.85"/>
<circle cx="182.5" cy="97.0" r="0.85"/>
<circle cx="184.5" cy="97.8" r="0.85"/>
<circle cx="186.0" cy="98.0" r="0.85"/>
<circle cx="182.0" cy="99.0" r="0.85"/>
<circle cx="234.0" cy="79.0" r="0.85"/>
<circle cx="250.0" cy="95.0" r="0.85"/>
<circle cx="186.6" cy="69.0" r="0.85"/>
<circle cx="182.0" cy="105.0" r="0.85"/>
<circle cx="168.4" cy="55.0" r="0.85"/>
<circle cx="169.0" cy="56.4" r="0.85"/>
</g>
</g>
<g transform="translate(0,0.0)">
<text x="287.5" y="36.9" font-size="8.0" fill="#333" stroke="#333" stroke-width="0.15">(C)</text>
<text x="355.6" y="48.7" font-size="8.0" fill="#333" stroke="#333" stroke-width="0.15"><tspan font-style="italic">r</tspan> = − 0.584</text>
<text x="355.6" y="60.55" font-size="8.0" fill="#333" stroke="#333" stroke-width="0.15"><tspan font-style="italic">p</tspan> &lt; 0.001</text>
<line x1="301.9" y1="84.6" x2="398.7" y2="119.9" stroke="#cdcdcd" stroke-width="0.9"/>
<path d="M301.9 47.8V120.0H407.0" fill="none" stroke="#a0a0a0" stroke-width="0.85"/>
<line x1="297.5" y1="120.00" x2="301.9" y2="120.00" stroke="#a0a0a0" stroke-width="0.85"/>
<text x="295.5" y="122.80" text-anchor="end" font-size="7.8" fill="#333" stroke="#333" stroke-width="0.15">0</text>
<line x1="297.5" y1="98.23" x2="301.9" y2="98.23" stroke="#a0a0a0" stroke-width="0.85"/>
<text x="295.5" y="101.03" text-anchor="end" font-size="7.8" fill="#333" stroke="#333" stroke-width="0.15">20</text>
<line x1="297.5" y1="76.47" x2="301.9" y2="76.47" stroke="#a0a0a0" stroke-width="0.85"/>
<text x="295.5" y="79.27" text-anchor="end" font-size="7.8" fill="#333" stroke="#333" stroke-width="0.15">40</text>
<line x1="297.5" y1="54.70" x2="301.9" y2="54.70" stroke="#a0a0a0" stroke-width="0.85"/>
<text x="295.5" y="57.50" text-anchor="end" font-size="7.8" fill="#333" stroke="#333" stroke-width="0.15">60</text>
<line x1="306.80" y1="120.0" x2="306.80" y2="124.5" stroke="#a0a0a0" stroke-width="0.85"/>
<text x="306.80" y="132.90" text-anchor="middle" font-size="7.8" fill="#333" stroke="#333" stroke-width="0.15">0</text>
<line x1="333.80" y1="120.0" x2="333.80" y2="124.5" stroke="#a0a0a0" stroke-width="0.85"/>
<text x="333.80" y="132.90" text-anchor="middle" font-size="7.8" fill="#333" stroke="#333" stroke-width="0.15">20</text>
<line x1="360.80" y1="120.0" x2="360.80" y2="124.5" stroke="#a0a0a0" stroke-width="0.85"/>
<text x="360.80" y="132.90" text-anchor="middle" font-size="7.8" fill="#333" stroke="#333" stroke-width="0.15">40</text>
<line x1="387.80" y1="120.0" x2="387.80" y2="124.5" stroke="#a0a0a0" stroke-width="0.85"/>
<text x="387.80" y="132.90" text-anchor="middle" font-size="7.8" fill="#333" stroke="#333" stroke-width="0.15">60</text>
<text x="352.8" y="144.3" text-anchor="middle" font-size="8.1" font-weight="bold" fill="#111" stroke="#111" stroke-width="0.2">Major osteoporotic fracture (%)</text>
<text transform="translate(282.4,82.6) rotate(-90)" text-anchor="middle" font-size="8.1" font-weight="bold" fill="#111" stroke="#111" stroke-width="0.2">Handgrip strength (kg)</text>
<g fill="#3b55b2">
<circle cx="309.5" cy="81.7" r="0.85"/>
<circle cx="309.6" cy="74.8" r="0.85"/>
<circle cx="309.6" cy="86.5" r="0.85"/>
<circle cx="309.6" cy="86.0" r="0.85"/>
<circle cx="309.7" cy="81.7" r="0.85"/>
<circle cx="309.7" cy="84.2" r="0.85"/>
<circle cx="309.8" cy="94.5" r="0.85"/>
<circle cx="309.8" cy="75.3" r="0.85"/>
<circle cx="309.9" cy="82.9" r="0.85"/>
<circle cx="309.9" cy="83.4" r="0.85"/>
<circle cx="309.9" cy="96.2" r="0.85"/>
<circle cx="310.0" cy="93.3" r="0.85"/>
<circle cx="310.0" cy="73.9" r="0.85"/>
<circle cx="310.1" cy="85.2" r="0.85"/>
<circle cx="310.2" cy="65.6" r="0.85"/>
<circle cx="310.2" cy="98.6" r="0.85"/>
<circle cx="310.2" cy="91.1" r="0.85"/>
<circle cx="310.3" cy="77.1" r="0.85"/>
<circle cx="310.4" cy="84.8" r="0.85"/>
<circle cx="310.4" cy="93.7" r="0.85"/>
<circle cx="310.4" cy="89.0" r="0.85"/>
<circle cx="310.5" cy="94.2" r="0.85"/>
<circle cx="310.6" cy="89.5" r="0.85"/>
<circle cx="310.6" cy="81.7" r="0.85"/>
<circle cx="310.7" cy="77.7" r="0.85"/>
<circle cx="310.8" cy="90.0" r="0.85"/>
<circle cx="310.8" cy="87.8" r="0.85"/>
<circle cx="310.8" cy="84.3" r="0.85"/>
<circle cx="310.9" cy="84.5" r="0.85"/>
<circle cx="310.9" cy="83.4" r="0.85"/>
<circle cx="311.0" cy="84.8" r="0.85"/>
<circle cx="311.1" cy="79.1" r="0.85"/>
<circle cx="311.1" cy="90.6" r="0.85"/>
<circle cx="311.2" cy="82.0" r="0.85"/>
<circle cx="311.2" cy="81.6" r="0.85"/>
<circle cx="311.2" cy="94.7" r="0.85"/>
<circle cx="311.3" cy="85.6" r="0.85"/>
<circle cx="311.3" cy="95.1" r="0.85"/>
<circle cx="311.3" cy="103.9" r="0.85"/>
<circle cx="311.4" cy="87.6" r="0.85"/>
<circle cx="311.4" cy="89.8" r="0.85"/>
<circle cx="311.4" cy="90.1" r="0.85"/>
<circle cx="311.5" cy="94.3" r="0.85"/>
<circle cx="311.5" cy="81.5" r="0.85"/>
<circle cx="311.5" cy="89.3" r="0.85"/>
<circle cx="311.6" cy="96.5" r="0.85"/>
<circle cx="311.6" cy="86.5" r="0.85"/>
<circle cx="311.7" cy="90.4" r="0.85"/>
<circle cx="311.7" cy="84.3" r="0.85"/>
<circle cx="311.7" cy="84.2" r="0.85"/>
<circle cx="311.8" cy="81.0" r="0.85"/>
<circle cx="311.8" cy="96.4" r="0.85"/>
<circle cx="311.8" cy="81.1" r="0.85"/>
<circle cx="311.9" cy="95.3" r="0.85"/>
<circle cx="311.9" cy="101.5" r="0.85"/>
<circle cx="312.0" cy="81.6" r="0.85"/>
<circle cx="312.0" cy="90.6" r="0.85"/>
<circle cx="312.0" cy="87.3" r="0.85"/>
<circle cx="312.1" cy="72.5" r="0.85"/>
<circle cx="312.1" cy="90.8" r="0.85"/>
<circle cx="312.2" cy="81.1" r="0.85"/>
<circle cx="312.2" cy="89.8" r="0.85"/>
<circle cx="312.3" cy="87.1" r="0.85"/>
<circle cx="312.3" cy="95.2" r="0.85"/>
<circle cx="312.3" cy="83.2" r="0.85"/>
<circle cx="312.4" cy="82.7" r="0.85"/>
<circle cx="312.4" cy="80.7" r="0.85"/>
<circle cx="312.4" cy="82.6" r="0.85"/>
<circle cx="312.5" cy="94.6" r="0.85"/>
<circle cx="312.5" cy="88.5" r="0.85"/>
<circle cx="312.6" cy="85.8" r="0.85"/>
<circle cx="312.6" cy="100.4" r="0.85"/>
<circle cx="312.7" cy="80.6" r="0.85"/>
<circle cx="312.7" cy="87.3" r="0.85"/>
<circle cx="312.7" cy="90.5" r="0.85"/>
<circle cx="312.8" cy="91.8" r="0.85"/>
<circle cx="312.8" cy="100.5" r="0.85"/>
<circle cx="312.9" cy="94.0" r="0.85"/>
<circle cx="313.0" cy="101.9" r="0.85"/>
<circle cx="313.0" cy="101.4" r="0.85"/>
<circle cx="313.0" cy="97.4" r="0.85"/>
<circle cx="313.1" cy="79.4" r="0.85"/>
<circle cx="313.1" cy="93.0" r="0.85"/>
<circle cx="313.2" cy="89.8" r="0.85"/>
<circle cx="313.2" cy="79.8" r="0.85"/>
<circle cx="313.2" cy="77.8" r="0.85"/>
<circle cx="313.3" cy="93.0" r="0.85"/>
<circle cx="313.3" cy="83.4" r="0.85"/>
<circle cx="313.3" cy="81.0" r="0.85"/>
<circle cx="313.4" cy="93.4" r="0.85"/>
<circle cx="313.4" cy="102.2" r="0.85"/>
<circle cx="313.5" cy="92.1" r="0.85"/>
<circle cx="313.5" cy="102.9" r="0.85"/>
<circle cx="313.5" cy="90.3" r="0.85"/>
<circle cx="313.6" cy="101.3" r="0.85"/>
<circle cx="313.6" cy="73.0" r="0.85"/>
<circle cx="313.7" cy="94.4" r="0.85"/>
<circle cx="313.7" cy="81.6" r="0.85"/>
<circle cx="313.7" cy="75.3" r="0.85"/>
<circle cx="313.8" cy="106.0" r="0.85"/>
<circle cx="313.8" cy="83.6" r="0.85"/>
<circle cx="313.9" cy="86.0" r="0.85"/>
<circle cx="313.9" cy="92.5" r="0.85"/>
<circle cx="313.9" cy="83.2" r="0.85"/>
<circle cx="314.0" cy="84.7" r="0.85"/>
<circle cx="314.0" cy="87.2" r="0.85"/>
<circle cx="314.1" cy="104.1" r="0.85"/>
<circle cx="314.1" cy="89.2" r="0.85"/>
<circle cx="314.2" cy="106.5" r="0.85"/>
<circle cx="314.2" cy="87.5" r="0.85"/>
<circle cx="314.2" cy="86.6" r="0.85"/>
<circle cx="314.3" cy="81.0" r="0.85"/>
<circle cx="314.4" cy="94.8" r="0.85"/>
<circle cx="314.4" cy="101.7" r="0.85"/>
<circle cx="314.4" cy="89.7" r="0.85"/>
<circle cx="314.5" cy="88.3" r="0.85"/>
<circle cx="314.5" cy="90.9" r="0.85"/>
<circle cx="314.6" cy="95.5" r="0.85"/>
<circle cx="314.6" cy="77.6" r="0.85"/>
<circle cx="314.7" cy="103.2" r="0.85"/>
<circle cx="314.7" cy="101.1" r="0.85"/>
<circle cx="314.7" cy="88.3" r="0.85"/>
<circle cx="314.8" cy="89.6" r="0.85"/>
<circle cx="314.8" cy="78.9" r="0.85"/>
<circle cx="314.9" cy="94.1" r="0.85"/>
<circle cx="314.9" cy="96.1" r="0.85"/>
<circle cx="315.0" cy="91.5" r="0.85"/>
<circle cx="315.0" cy="82.1" r="0.85"/>
<circle cx="315.1" cy="96.1" r="0.85"/>
<circle cx="315.1" cy="94.8" r="0.85"/>
<circle cx="315.2" cy="89.9" r="0.85"/>
<circle cx="315.3" cy="95.8" r="0.85"/>
<circle cx="315.3" cy="106.1" r="0.85"/>
<circle cx="315.3" cy="85.8" r="0.85"/>
<circle cx="315.4" cy="100.3" r="0.85"/>
<circle cx="315.4" cy="101.8" r="0.85"/>
<circle cx="315.5" cy="80.6" r="0.85"/>
<circle cx="315.6" cy="75.5" r="0.85"/>
<circle cx="315.6" cy="93.4" r="0.85"/>
<circle cx="315.7" cy="88.4" r="0.85"/>
<circle cx="315.7" cy="88.2" r="0.85"/>
<circle cx="315.7" cy="100.5" r="0.85"/>
<circle cx="315.8" cy="72.9" r="0.85"/>
<circle cx="315.9" cy="82.8" r="0.85"/>
<circle cx="315.9" cy="93.9" r="0.85"/>
<circle cx="315.9" cy="92.1" r="0.85"/>
<circle cx="316.0" cy="90.4" r="0.85"/>
<circle cx="316.1" cy="90.2" r="0.85"/>
<circle cx="316.1" cy="90.7" r="0.85"/>
<circle cx="316.2" cy="102.1" r="0.85"/>
<circle cx="316.2" cy="96.1" r="0.85"/>
<circle cx="316.3" cy="88.7" r="0.85"/>
<circle cx="316.3" cy="84.5" r="0.85"/>
<circle cx="316.4" cy="97.7" r="0.85"/>
<circle cx="316.4" cy="80.6" r="0.85"/>
<circle cx="316.5" cy="80.9" r="0.85"/>
<circle cx="316.6" cy="97.5" r="0.85"/>
<circle cx="316.6" cy="99.3" r="0.85"/>
<circle cx="316.7" cy="97.2" r="0.85"/>
<circle cx="316.8" cy="80.7" r="0.85"/>
<circle cx="316.8" cy="88.2" r="0.85"/>
<circle cx="316.9" cy="91.1" r="0.85"/>
<circle cx="317.0" cy="93.4" r="0.85"/>
<circle cx="317.0" cy="79.9" r="0.85"/>
<circle cx="317.1" cy="92.3" r="0.85"/>
<circle cx="317.2" cy="110.9" r="0.85"/>
<circle cx="317.2" cy="89.3" r="0.85"/>
<circle cx="317.3" cy="90.8" r="0.85"/>
<circle cx="317.4" cy="79.8" r="0.85"/>
<circle cx="317.4" cy="92.3" r="0.85"/>
<circle cx="317.5" cy="88.2" r="0.85"/>
<circle cx="317.6" cy="103.0" r="0.85"/>
<circle cx="317.6" cy="95.6" r="0.85"/>
<circle cx="317.7" cy="93.0" r="0.85"/>
<circle cx="317.8" cy="92.2" r="0.85"/>
<circle cx="317.8" cy="103.9" r="0.85"/>
<circle cx="317.9" cy="103.5" r="0.85"/>
<circle cx="318.0" cy="82.6" r="0.85"/>
<circle cx="318.1" cy="83.6" r="0.85"/>
<circle cx="318.1" cy="87.7" r="0.85"/>
<circle cx="318.3" cy="81.2" r="0.85"/>
<circle cx="318.3" cy="98.5" r="0.85"/>
<circle cx="318.4" cy="86.5" r="0.85"/>
<circle cx="318.4" cy="105.2" r="0.85"/>
<circle cx="318.5" cy="104.5" r="0.85"/>
<circle cx="318.6" cy="85.7" r="0.85"/>
<circle cx="318.7" cy="91.5" r="0.85"/>
<circle cx="318.8" cy="106.0" r="0.85"/>
<circle cx="318.9" cy="111.7" r="0.85"/>
<circle cx="318.9" cy="92.2" r="0.85"/>
<circle cx="319.0" cy="92.5" r="0.85"/>
<circle cx="319.1" cy="98.9" r="0.85"/>
<circle cx="319.2" cy="89.6" r="0.85"/>
<circle cx="319.2" cy="101.8" r="0.85"/>
<circle cx="319.3" cy="90.4" r="0.85"/>
<circle cx="319.4" cy="96.6" r="0.85"/>
<circle cx="319.5" cy="104.4" r="0.85"/>
<circle cx="319.6" cy="103.1" r="0.85"/>
<circle cx="319.7" cy="109.6" r="0.85"/>
<circle cx="319.8" cy="92.8" r="0.85"/>
<circle cx="319.8" cy="93.0" r="0.85"/>
<circle cx="319.9" cy="87.5" r="0.85"/>
<circle cx="320.0" cy="97.3" r="0.85"/>
<circle cx="320.1" cy="98.2" r="0.85"/>
<circle cx="320.2" cy="99.2" r="0.85"/>
<circle cx="320.3" cy="91.6" r="0.85"/>
<circle cx="320.4" cy="108.6" r="0.85"/>
<circle cx="320.5" cy="102.5" r="0.85"/>
<circle cx="320.5" cy="97.4" r="0.85"/>
<circle cx="320.7" cy="91.3" r="0.85"/>
<circle cx="320.7" cy="87.2" r="0.85"/>
<circle cx="320.8" cy="97.5" r="0.85"/>
<circle cx="320.9" cy="103.0" r="0.85"/>
<circle cx="321.0" cy="91.9" r="0.85"/>
<circle cx="321.1" cy="91.6" r="0.85"/>
<circle cx="321.2" cy="85.5" r="0.85"/>
<circle cx="321.3" cy="104.9" r="0.85"/>
<circle cx="321.3" cy="85.1" r="0.85"/>
<circle cx="321.5" cy="88.1" r="0.85"/>
<circle cx="321.6" cy="91.6" r="0.85"/>
<circle cx="321.8" cy="75.9" r="0.85"/>
<circle cx="322.0" cy="91.8" r="0.85"/>
<circle cx="322.1" cy="92.9" r="0.85"/>
<circle cx="322.3" cy="105.6" r="0.85"/>
<circle cx="322.5" cy="95.9" r="0.85"/>
<circle cx="322.7" cy="96.6" r="0.85"/>
<circle cx="322.8" cy="108.1" r="0.85"/>
<circle cx="323.0" cy="115.0" r="0.85"/>
<circle cx="323.1" cy="88.7" r="0.85"/>
<circle cx="323.4" cy="85.6" r="0.85"/>
<circle cx="323.5" cy="75.1" r="0.85"/>
<circle cx="323.8" cy="98.8" r="0.85"/>
<circle cx="323.8" cy="92.0" r="0.85"/>
<circle cx="324.1" cy="103.1" r="0.85"/>
<circle cx="324.3" cy="110.7" r="0.85"/>
<circle cx="324.4" cy="94.8" r="0.85"/>
<circle cx="324.6" cy="82.1" r="0.85"/>
<circle cx="324.8" cy="81.1" r="0.85"/>
<circle cx="325.1" cy="92.1" r="0.85"/>
<circle cx="325.3" cy="94.3" r="0.85"/>
<circle cx="325.5" cy="96.7" r="0.85"/>
<circle cx="325.6" cy="95.9" r="0.85"/>
<circle cx="325.8" cy="84.6" r="0.85"/>
<circle cx="326.1" cy="105.2" r="0.85"/>
<circle cx="326.3" cy="95.2" r="0.85"/>
<circle cx="326.5" cy="97.4" r="0.85"/>
<circle cx="326.6" cy="101.3" r="0.85"/>
<circle cx="326.9" cy="80.7" r="0.85"/>
<circle cx="327.0" cy="98.8" r="0.85"/>
<circle cx="327.3" cy="97.1" r="0.85"/>
<circle cx="327.5" cy="90.3" r="0.85"/>
<circle cx="327.7" cy="104.6" r="0.85"/>
<circle cx="328.0" cy="88.5" r="0.85"/>
<circle cx="328.1" cy="89.4" r="0.85"/>
<circle cx="328.3" cy="95.5" r="0.85"/>
<circle cx="328.8" cy="93.8" r="0.85"/>
<circle cx="328.9" cy="106.2" r="0.85"/>
<circle cx="329.1" cy="85.6" r="0.85"/>
<circle cx="329.3" cy="86.6" r="0.85"/>
<circle cx="329.6" cy="94.1" r="0.85"/>
<circle cx="329.9" cy="94.4" r="0.85"/>
<circle cx="330.2" cy="108.5" r="0.85"/>
<circle cx="330.3" cy="111.1" r="0.85"/>
<circle cx="330.5" cy="93.9" r="0.85"/>
<circle cx="330.9" cy="99.8" r="0.85"/>
<circle cx="331.1" cy="104.7" r="0.85"/>
<circle cx="331.5" cy="99.9" r="0.85"/>
<circle cx="331.7" cy="96.6" r="0.85"/>
<circle cx="332.1" cy="98.5" r="0.85"/>
<circle cx="332.1" cy="109.0" r="0.85"/>
<circle cx="332.4" cy="97.9" r="0.85"/>
<circle cx="332.7" cy="105.1" r="0.85"/>
<circle cx="333.1" cy="101.0" r="0.85"/>
<circle cx="333.3" cy="105.9" r="0.85"/>
<circle cx="333.6" cy="104.3" r="0.85"/>
<circle cx="334.1" cy="99.0" r="0.85"/>
<circle cx="334.3" cy="106.8" r="0.85"/>
<circle cx="334.7" cy="99.6" r="0.85"/>
<circle cx="335.3" cy="100.0" r="0.85"/>
<circle cx="336.0" cy="101.2" r="0.85"/>
<circle cx="336.4" cy="102.8" r="0.85"/>
<circle cx="337.0" cy="112.6" r="0.85"/>
<circle cx="337.6" cy="102.4" r="0.85"/>
<circle cx="338.2" cy="103.7" r="0.85"/>
<circle cx="338.7" cy="101.3" r="0.85"/>
<circle cx="346.0" cy="85.2" r="0.85"/>
<circle cx="369.2" cy="90.0" r="0.85"/>
<circle cx="355.8" cy="91.8" r="0.85"/>
<circle cx="350.2" cy="93.8" r="0.85"/>
<circle cx="351.5" cy="95.5" r="0.85"/>
<circle cx="354.5" cy="96.0" r="0.85"/>
<circle cx="357.0" cy="96.5" r="0.85"/>
<circle cx="343.5" cy="96.0" r="0.85"/>
<circle cx="345.0" cy="98.5" r="0.85"/>
<circle cx="364.0" cy="99.5" r="0.85"/>
<circle cx="355.8" cy="100.0" r="0.85"/>
<circle cx="355.8" cy="101.5" r="0.85"/>
<circle cx="358.5" cy="100.8" r="0.85"/>
<circle cx="348.0" cy="100.5" r="0.85"/>
<circle cx="349.5" cy="101.2" r="0.85"/>
<circle cx="350.5" cy="102.0" r="0.85"/>
<circle cx="343.5" cy="102.0" r="0.85"/>
<circle cx="344.5" cy="103.5" r="0.85"/>
<circle cx="340.0" cy="102.0" r="0.85"/>
<circle cx="361.0" cy="103.0" r="0.85"/>
<circle cx="361.0" cy="104.5" r="0.85"/>
<circle cx="360.0" cy="106.2" r="0.85"/>
<circle cx="355.8" cy="104.0" r="0.85"/>
<circle cx="355.8" cy="105.5" r="0.85"/>
<circle cx="348.5" cy="104.5" r="0.85"/>
<circle cx="347.5" cy="106.0" r="0.85"/>
<circle cx="351.5" cy="105.5" r="0.85"/>
<circle cx="368.0" cy="105.2" r="0.85"/>
<circle cx="377.3" cy="104.8" r="0.85"/>
<circle cx="358.5" cy="108.8" r="0.85"/>
<circle cx="362.5" cy="110.2" r="0.85"/>
<circle cx="339.2" cy="107.8" r="0.85"/>
<circle cx="376.0" cy="113.0" r="0.85"/>
<circle cx="380.0" cy="112.5" r="0.85"/>
<circle cx="351.5" cy="114.0" r="0.85"/>
<circle cx="400.0" cy="105.0" r="0.85"/>
<circle cx="309.4" cy="63.0" r="0.85"/>
<circle cx="310.0" cy="65.0" r="0.85"/>
<circle cx="311.0" cy="67.6" r="0.85"/>
<circle cx="312.0" cy="68.0" r="0.85"/>
<circle cx="311.4" cy="117.6" r="0.85"/>
</g>
</g>
<g transform="translate(0,0.0)">
<text x="423.2" y="36.9" font-size="8.0" fill="#333" stroke="#333" stroke-width="0.15">(D)</text>
<text x="491.3" y="48.7" font-size="8.0" fill="#333" stroke="#333" stroke-width="0.15"><tspan font-style="italic">r</tspan> = − 0.477</text>
<text x="491.3" y="60.55" font-size="8.0" fill="#333" stroke="#333" stroke-width="0.15"><tspan font-style="italic">p</tspan> &lt; 0.001</text>
<line x1="437.6" y1="89.3" x2="524.0" y2="119.9" stroke="#cdcdcd" stroke-width="0.9"/>
<path d="M437.6 47.8V120.0H543.0" fill="none" stroke="#a0a0a0" stroke-width="0.85"/>
<line x1="433.20000000000005" y1="120.00" x2="437.6" y2="120.00" stroke="#a0a0a0" stroke-width="0.85"/>
<text x="431.2" y="122.80" text-anchor="end" font-size="7.8" fill="#333" stroke="#333" stroke-width="0.15">0</text>
<line x1="433.20000000000005" y1="98.23" x2="437.6" y2="98.23" stroke="#a0a0a0" stroke-width="0.85"/>
<text x="431.2" y="101.03" text-anchor="end" font-size="7.8" fill="#333" stroke="#333" stroke-width="0.15">20</text>
<line x1="433.20000000000005" y1="76.47" x2="437.6" y2="76.47" stroke="#a0a0a0" stroke-width="0.85"/>
<text x="431.2" y="79.27" text-anchor="end" font-size="7.8" fill="#333" stroke="#333" stroke-width="0.15">40</text>
<line x1="433.20000000000005" y1="54.70" x2="437.6" y2="54.70" stroke="#a0a0a0" stroke-width="0.85"/>
<text x="431.2" y="57.50" text-anchor="end" font-size="7.8" fill="#333" stroke="#333" stroke-width="0.15">60</text>
<line x1="442.80" y1="120.0" x2="442.80" y2="124.5" stroke="#a0a0a0" stroke-width="0.85"/>
<text x="442.80" y="132.90" text-anchor="middle" font-size="7.8" fill="#333" stroke="#333" stroke-width="0.15">0</text>
<line x1="474.40" y1="120.0" x2="474.40" y2="124.5" stroke="#a0a0a0" stroke-width="0.85"/>
<text x="474.40" y="132.90" text-anchor="middle" font-size="7.8" fill="#333" stroke="#333" stroke-width="0.15">20</text>
<line x1="506.00" y1="120.0" x2="506.00" y2="124.5" stroke="#a0a0a0" stroke-width="0.85"/>
<text x="506.00" y="132.90" text-anchor="middle" font-size="7.8" fill="#333" stroke="#333" stroke-width="0.15">40</text>
<line x1="537.60" y1="120.0" x2="537.60" y2="124.5" stroke="#a0a0a0" stroke-width="0.85"/>
<text x="537.60" y="132.90" text-anchor="middle" font-size="7.8" fill="#333" stroke="#333" stroke-width="0.15">60</text>
<text x="488.3" y="144.3" text-anchor="middle" font-size="8.1" font-weight="bold" fill="#111" stroke="#111" stroke-width="0.2">Hip fracture (%)</text>
<text transform="translate(418.1,82.6) rotate(-90)" text-anchor="middle" font-size="8.1" font-weight="bold" fill="#111" stroke="#111" stroke-width="0.2">Handgrip strength (kg)</text>
<g fill="#3b55b2">
<circle cx="443.1" cy="85.8" r="0.85"/>
<circle cx="443.1" cy="74.4" r="0.85"/>
<circle cx="443.1" cy="87.1" r="0.85"/>
<circle cx="443.1" cy="78.4" r="0.85"/>
<circle cx="443.2" cy="78.2" r="0.85"/>
<circle cx="443.2" cy="101.6" r="0.85"/>
<circle cx="443.2" cy="96.2" r="0.85"/>
<circle cx="443.2" cy="86.5" r="0.85"/>
<circle cx="443.2" cy="88.5" r="0.85"/>
<circle cx="443.2" cy="80.4" r="0.85"/>
<circle cx="443.2" cy="86.5" r="0.85"/>
<circle cx="443.2" cy="88.2" r="0.85"/>
<circle cx="443.2" cy="87.3" r="0.85"/>
<circle cx="443.2" cy="89.4" r="0.85"/>
<circle cx="443.3" cy="91.2" r="0.85"/>
<circle cx="443.3" cy="91.4" r="0.85"/>
<circle cx="443.3" cy="75.1" r="0.85"/>
<circle cx="443.3" cy="85.5" r="0.85"/>
<circle cx="443.3" cy="88.3" r="0.85"/>
<circle cx="443.3" cy="80.0" r="0.85"/>
<circle cx="443.3" cy="79.9" r="0.85"/>
<circle cx="443.4" cy="80.5" r="0.85"/>
<circle cx="443.4" cy="80.7" r="0.85"/>
<circle cx="443.4" cy="86.6" r="0.85"/>
<circle cx="443.4" cy="91.7" r="0.85"/>
<circle cx="443.4" cy="89.4" r="0.85"/>
<circle cx="443.4" cy="79.3" r="0.85"/>
<circle cx="443.4" cy="80.1" r="0.85"/>
<circle cx="443.4" cy="83.0" r="0.85"/>
<circle cx="443.5" cy="76.8" r="0.85"/>
<circle cx="443.5" cy="90.2" r="0.85"/>
<circle cx="443.5" cy="81.6" r="0.85"/>
<circle cx="443.5" cy="86.0" r="0.85"/>
<circle cx="443.5" cy="90.5" r="0.85"/>
<circle cx="443.5" cy="82.3" r="0.85"/>
<circle cx="443.5" cy="83.2" r="0.85"/>
<circle cx="443.6" cy="82.6" r="0.85"/>
<circle cx="443.6" cy="82.6" r="0.85"/>
<circle cx="443.6" cy="82.4" r="0.85"/>
<circle cx="443.6" cy="90.4" r="0.85"/>
<circle cx="443.6" cy="85.2" r="0.85"/>
<circle cx="443.6" cy="72.6" r="0.85"/>
<circle cx="443.6" cy="88.4" r="0.85"/>
<circle cx="443.6" cy="91.8" r="0.85"/>
<circle cx="443.7" cy="89.1" r="0.85"/>
<circle cx="443.7" cy="90.5" r="0.85"/>
<circle cx="443.7" cy="91.9" r="0.85"/>
<circle cx="443.7" cy="93.8" r="0.85"/>
<circle cx="443.7" cy="86.8" r="0.85"/>
<circle cx="443.7" cy="85.5" r="0.85"/>
<circle cx="443.7" cy="88.4" r="0.85"/>
<circle cx="443.7" cy="71.9" r="0.85"/>
<circle cx="443.8" cy="79.0" r="0.85"/>
<circle cx="443.8" cy="74.4" r="0.85"/>
<circle cx="443.8" cy="89.4" r="0.85"/>
<circle cx="443.8" cy="87.3" r="0.85"/>
<circle cx="443.8" cy="78.0" r="0.85"/>
<circle cx="443.8" cy="102.5" r="0.85"/>
<circle cx="443.8" cy="80.7" r="0.85"/>
<circle cx="443.9" cy="86.7" r="0.85"/>
<circle cx="443.9" cy="76.0" r="0.85"/>
<circle cx="443.9" cy="80.5" r="0.85"/>
<circle cx="443.9" cy="87.3" r="0.85"/>
<circle cx="443.9" cy="97.4" r="0.85"/>
<circle cx="443.9" cy="93.0" r="0.85"/>
<circle cx="444.0" cy="76.4" r="0.85"/>
<circle cx="444.0" cy="80.5" r="0.85"/>
<circle cx="444.0" cy="92.4" r="0.85"/>
<circle cx="444.0" cy="88.8" r="0.85"/>
<circle cx="444.0" cy="81.3" r="0.85"/>
<circle cx="444.0" cy="92.0" r="0.85"/>
<circle cx="444.1" cy="90.1" r="0.85"/>
<circle cx="444.1" cy="97.1" r="0.85"/>
<circle cx="444.1" cy="103.6" r="0.85"/>
<circle cx="444.1" cy="96.0" r="0.85"/>
<circle cx="444.1" cy="89.7" r="0.85"/>
<circle cx="444.2" cy="80.0" r="0.85"/>
<circle cx="444.2" cy="98.7" r="0.85"/>
<circle cx="444.2" cy="92.8" r="0.85"/>
<circle cx="444.2" cy="86.8" r="0.85"/>
<circle cx="444.2" cy="87.2" r="0.85"/>
<circle cx="444.2" cy="84.8" r="0.85"/>
<circle cx="444.3" cy="89.6" r="0.85"/>
<circle cx="444.3" cy="105.9" r="0.85"/>
<circle cx="444.3" cy="101.1" r="0.85"/>
<circle cx="444.3" cy="90.5" r="0.85"/>
<circle cx="444.3" cy="85.3" r="0.85"/>
<circle cx="444.4" cy="86.8" r="0.85"/>
<circle cx="444.4" cy="89.1" r="0.85"/>
<circle cx="444.4" cy="72.1" r="0.85"/>
<circle cx="444.4" cy="93.1" r="0.85"/>
<circle cx="444.4" cy="81.2" r="0.85"/>
<circle cx="444.4" cy="95.2" r="0.85"/>
<circle cx="444.5" cy="76.3" r="0.85"/>
<circle cx="444.5" cy="108.7" r="0.85"/>
<circle cx="444.5" cy="103.0" r="0.85"/>
<circle cx="444.5" cy="81.0" r="0.85"/>
<circle cx="444.5" cy="86.0" r="0.85"/>
<circle cx="444.5" cy="85.5" r="0.85"/>
<circle cx="444.6" cy="90.0" r="0.85"/>
<circle cx="444.6" cy="79.4" r="0.85"/>
<circle cx="444.6" cy="102.9" r="0.85"/>
<circle cx="444.6" cy="96.0" r="0.85"/>
<circle cx="444.6" cy="89.1" r="0.85"/>
<circle cx="444.7" cy="90.3" r="0.85"/>
<circle cx="444.7" cy="98.8" r="0.85"/>
<circle cx="444.7" cy="98.0" r="0.85"/>
<circle cx="444.7" cy="101.5" r="0.85"/>
<circle cx="444.8" cy="88.9" r="0.85"/>
<circle cx="444.8" cy="100.9" r="0.85"/>
<circle cx="444.8" cy="93.7" r="0.85"/>
<circle cx="444.8" cy="95.6" r="0.85"/>
<circle cx="444.8" cy="99.4" r="0.85"/>
<circle cx="444.9" cy="80.6" r="0.85"/>
<circle cx="444.9" cy="91.4" r="0.85"/>
<circle cx="444.9" cy="102.7" r="0.85"/>
<circle cx="445.0" cy="88.6" r="0.85"/>
<circle cx="445.0" cy="93.8" r="0.85"/>
<circle cx="445.0" cy="101.1" r="0.85"/>
<circle cx="445.0" cy="106.3" r="0.85"/>
<circle cx="445.1" cy="88.9" r="0.85"/>
<circle cx="445.1" cy="79.2" r="0.85"/>
<circle cx="445.1" cy="82.6" r="0.85"/>
<circle cx="445.1" cy="114.4" r="0.85"/>
<circle cx="445.2" cy="95.4" r="0.85"/>
<circle cx="445.2" cy="90.7" r="0.85"/>
<circle cx="445.2" cy="90.2" r="0.85"/>
<circle cx="445.2" cy="89.5" r="0.85"/>
<circle cx="445.3" cy="98.5" r="0.85"/>
<circle cx="445.3" cy="109.9" r="0.85"/>
<circle cx="445.3" cy="89.3" r="0.85"/>
<circle cx="445.3" cy="95.5" r="0.85"/>
<circle cx="445.4" cy="96.0" r="0.85"/>
<circle cx="445.4" cy="105.8" r="0.85"/>
<circle cx="445.4" cy="102.1" r="0.85"/>
<circle cx="445.5" cy="104.1" r="0.85"/>
<circle cx="445.5" cy="89.5" r="0.85"/>
<circle cx="445.5" cy="99.4" r="0.85"/>
<circle cx="445.6" cy="73.5" r="0.85"/>
<circle cx="445.6" cy="90.3" r="0.85"/>
<circle cx="445.6" cy="105.0" r="0.85"/>
<circle cx="445.6" cy="102.5" r="0.85"/>
<circle cx="445.7" cy="78.2" r="0.85"/>
<circle cx="445.7" cy="86.0" r="0.85"/>
<circle cx="445.8" cy="83.6" r="0.85"/>
<circle cx="445.8" cy="75.2" r="0.85"/>
<circle cx="445.8" cy="83.0" r="0.85"/>
<circle cx="445.9" cy="93.3" r="0.85"/>
<circle cx="445.9" cy="85.3" r="0.85"/>
<circle cx="445.9" cy="102.8" r="0.85"/>
<circle cx="446.0" cy="102.0" r="0.85"/>
<circle cx="446.0" cy="108.4" r="0.85"/>
<circle cx="446.0" cy="104.6" r="0.85"/>
<circle cx="446.1" cy="108.3" r="0.85"/>
<circle cx="446.1" cy="101.7" r="0.85"/>
<circle cx="446.2" cy="87.9" r="0.85"/>
<circle cx="446.2" cy="101.7" r="0.85"/>
<circle cx="446.2" cy="94.7" r="0.85"/>
<circle cx="446.3" cy="83.0" r="0.85"/>
<circle cx="446.4" cy="101.2" r="0.85"/>
<circle cx="446.4" cy="95.2" r="0.85"/>
<circle cx="446.4" cy="87.9" r="0.85"/>
<circle cx="446.5" cy="103.5" r="0.85"/>
<circle cx="446.5" cy="114.3" r="0.85"/>
<circle cx="446.6" cy="84.6" r="0.85"/>
<circle cx="446.6" cy="93.4" r="0.85"/>
<circle cx="446.7" cy="79.0" r="0.85"/>
<circle cx="446.7" cy="102.0" r="0.85"/>
<circle cx="446.7" cy="86.9" r="0.85"/>
<circle cx="446.8" cy="99.2" r="0.85"/>
<circle cx="446.9" cy="98.0" r="0.85"/>
<circle cx="446.9" cy="85.5" r="0.85"/>
<circle cx="447.0" cy="90.9" r="0.85"/>
<circle cx="447.0" cy="76.4" r="0.85"/>
<circle cx="447.1" cy="94.9" r="0.85"/>
<circle cx="447.1" cy="82.8" r="0.85"/>
<circle cx="447.2" cy="102.2" r="0.85"/>
<circle cx="447.2" cy="94.2" r="0.85"/>
<circle cx="447.3" cy="107.5" r="0.85"/>
<circle cx="447.4" cy="96.7" r="0.85"/>
<circle cx="447.4" cy="81.5" r="0.85"/>
<circle cx="447.5" cy="84.6" r="0.85"/>
<circle cx="447.5" cy="77.8" r="0.85"/>
<circle cx="447.6" cy="86.4" r="0.85"/>
<circle cx="447.6" cy="100.0" r="0.85"/>
<circle cx="447.7" cy="93.7" r="0.85"/>
<circle cx="447.7" cy="92.0" r="0.85"/>
<circle cx="447.8" cy="104.8" r="0.85"/>
<circle cx="447.9" cy="86.2" r="0.85"/>
<circle cx="447.9" cy="96.9" r="0.85"/>
<circle cx="448.0" cy="101.4" r="0.85"/>
<circle cx="448.1" cy="105.0" r="0.85"/>
<circle cx="448.2" cy="88.6" r="0.85"/>
<circle cx="448.2" cy="100.5" r="0.85"/>
<circle cx="448.3" cy="91.8" r="0.85"/>
<circle cx="448.3" cy="99.4" r="0.85"/>
<circle cx="448.4" cy="108.0" r="0.85"/>
<circle cx="448.5" cy="92.8" r="0.85"/>
<circle cx="448.6" cy="91.9" r="0.85"/>
<circle cx="448.7" cy="93.9" r="0.85"/>
<circle cx="448.7" cy="91.7" r="0.85"/>
<circle cx="448.8" cy="98.6" r="0.85"/>
<circle cx="448.9" cy="95.4" r="0.85"/>
<circle cx="449.0" cy="108.9" r="0.85"/>
<circle cx="449.0" cy="97.3" r="0.85"/>
<circle cx="449.1" cy="101.7" r="0.85"/>
<circle cx="449.2" cy="99.1" r="0.85"/>
<circle cx="449.2" cy="91.9" r="0.85"/>
<circle cx="449.3" cy="90.6" r="0.85"/>
<circle cx="449.4" cy="93.2" r="0.85"/>
<circle cx="449.5" cy="103.6" r="0.85"/>
<circle cx="449.6" cy="88.6" r="0.85"/>
<circle cx="449.7" cy="94.0" r="0.85"/>
<circle cx="449.7" cy="85.4" r="0.85"/>
<circle cx="449.9" cy="91.6" r="0.85"/>
<circle cx="449.9" cy="98.5" r="0.85"/>
<circle cx="450.0" cy="100.3" r="0.85"/>
<circle cx="450.1" cy="107.0" r="0.85"/>
<circle cx="450.2" cy="103.9" r="0.85"/>
<circle cx="450.3" cy="88.1" r="0.85"/>
<circle cx="450.3" cy="86.8" r="0.85"/>
<circle cx="450.5" cy="83.2" r="0.85"/>
<circle cx="450.6" cy="84.9" r="0.85"/>
<circle cx="450.6" cy="94.9" r="0.85"/>
<circle cx="450.8" cy="94.5" r="0.85"/>
<circle cx="450.9" cy="103.3" r="0.85"/>
<circle cx="451.0" cy="89.0" r="0.85"/>
<circle cx="451.1" cy="101.4" r="0.85"/>
<circle cx="451.2" cy="94.4" r="0.85"/>
<circle cx="451.4" cy="100.2" r="0.85"/>
<circle cx="451.4" cy="101.6" r="0.85"/>
<circle cx="451.5" cy="101.9" r="0.85"/>
<circle cx="451.6" cy="102.8" r="0.85"/>
<circle cx="451.8" cy="88.8" r="0.85"/>
<circle cx="451.9" cy="104.3" r="0.85"/>
<circle cx="452.0" cy="94.3" r="0.85"/>
<circle cx="452.1" cy="97.9" r="0.85"/>
<circle cx="452.3" cy="101.2" r="0.85"/>
<circle cx="452.4" cy="93.3" r="0.85"/>
<circle cx="452.5" cy="103.9" r="0.85"/>
<circle cx="452.6" cy="102.1" r="0.85"/>
<circle cx="452.8" cy="96.2" r="0.85"/>
<circle cx="452.9" cy="106.6" r="0.85"/>
<circle cx="453.1" cy="94.9" r="0.85"/>
<circle cx="453.1" cy="86.6" r="0.85"/>
<circle cx="453.4" cy="103.1" r="0.85"/>
<circle cx="453.4" cy="110.3" r="0.85"/>
<circle cx="453.6" cy="88.1" r="0.85"/>
<circle cx="453.7" cy="100.8" r="0.85"/>
<circle cx="453.8" cy="112.4" r="0.85"/>
<circle cx="454.0" cy="105.1" r="0.85"/>
<circle cx="454.1" cy="99.4" r="0.85"/>
<circle cx="454.4" cy="92.2" r="0.85"/>
<circle cx="454.5" cy="95.8" r="0.85"/>
<circle cx="454.7" cy="106.1" r="0.85"/>
<circle cx="454.8" cy="101.7" r="0.85"/>
<circle cx="455.0" cy="95.4" r="0.85"/>
<circle cx="455.1" cy="96.6" r="0.85"/>
<circle cx="455.2" cy="91.5" r="0.85"/>
<circle cx="455.4" cy="97.6" r="0.85"/>
<circle cx="455.5" cy="113.1" r="0.85"/>
<circle cx="455.7" cy="93.4" r="0.85"/>
<circle cx="456.0" cy="109.6" r="0.85"/>
<circle cx="474.5" cy="85.2" r="0.85"/>
<circle cx="490.3" cy="91.8" r="0.85"/>
<circle cx="493.5" cy="112.5" r="0.85"/>
<circle cx="474.5" cy="93.8" r="0.85"/>
<circle cx="474.5" cy="95.0" r="0.85"/>
<circle cx="474.5" cy="96.5" r="0.85"/>
<circle cx="480.8" cy="99.8" r="0.85"/>
<circle cx="471.2" cy="98.8" r="0.85"/>
<circle cx="471.2" cy="100.5" r="0.85"/>
<circle cx="476.2" cy="103.0" r="0.85"/>
<circle cx="480.8" cy="104.7" r="0.85"/>
<circle cx="479.2" cy="105.3" r="0.85"/>
<circle cx="477.8" cy="106.0" r="0.85"/>
<circle cx="473.0" cy="110.2" r="0.85"/>
<circle cx="479.2" cy="113.0" r="0.85"/>
<circle cx="466.5" cy="94.2" r="0.85"/>
<circle cx="465.0" cy="95.8" r="0.85"/>
<circle cx="463.5" cy="95.2" r="0.85"/>
<circle cx="462.0" cy="88.8" r="0.85"/>
<circle cx="456.0" cy="86.5" r="0.85"/>
<circle cx="458.0" cy="92.5" r="0.85"/>
<circle cx="460.2" cy="95.5" r="0.85"/>
<circle cx="463.5" cy="99.5" r="0.85"/>
<circle cx="463.5" cy="101.5" r="0.85"/>
<circle cx="466.5" cy="101.8" r="0.85"/>
<circle cx="460.0" cy="100.0" r="0.85"/>
<circle cx="458.5" cy="101.5" r="0.85"/>
<circle cx="458.0" cy="103.0" r="0.85"/>
<circle cx="469.0" cy="104.8" r="0.85"/>
<circle cx="470.5" cy="105.2" r="0.85"/>
<circle cx="471.2" cy="106.0" r="0.85"/>
<circle cx="460.5" cy="104.0" r="0.85"/>
<circle cx="462.0" cy="105.0" r="0.85"/>
<circle cx="462.0" cy="106.2" r="0.85"/>
<circle cx="460.0" cy="109.0" r="0.85"/>
<circle cx="456.8" cy="112.2" r="0.85"/>
<circle cx="463.5" cy="113.8" r="0.85"/>
<circle cx="509.0" cy="90.0" r="0.85"/>
<circle cx="525.0" cy="105.0" r="0.85"/>
<circle cx="443.0" cy="63.0" r="0.85"/>
<circle cx="443.0" cy="65.0" r="0.85"/>
<circle cx="443.6" cy="67.6" r="0.85"/>
<circle cx="443.0" cy="118.0" r="0.85"/>
</g>
</g>
<g transform="translate(0,158.3)">
<text x="14.7" y="35.4" font-size="8.0" fill="#333" stroke="#333" stroke-width="0.15">(E)</text>
<text x="82.2" y="48.7" font-size="8.0" fill="#333" stroke="#333" stroke-width="0.15"><tspan font-style="italic">r</tspan> = − 0.556</text>
<text x="82.2" y="60.55" font-size="8.0" fill="#333" stroke="#333" stroke-width="0.15"><tspan font-style="italic">p</tspan> &lt; 0.001</text>
<line x1="28.5" y1="74.9" x2="134.4" y2="109.2" stroke="#cdcdcd" stroke-width="0.9"/>
<path d="M28.5 47.8V120.0H134.3" fill="none" stroke="#a0a0a0" stroke-width="0.85"/>
<line x1="24.1" y1="120.00" x2="28.5" y2="120.00" stroke="#a0a0a0" stroke-width="0.85"/>
<text x="22.9" y="122.80" text-anchor="end" font-size="7.8" fill="#333" stroke="#333" stroke-width="0.15">2</text>
<line x1="24.1" y1="103.70" x2="28.5" y2="103.70" stroke="#a0a0a0" stroke-width="0.85"/>
<text x="22.9" y="106.50" text-anchor="end" font-size="7.8" fill="#333" stroke="#333" stroke-width="0.15">4</text>
<line x1="24.1" y1="87.40" x2="28.5" y2="87.40" stroke="#a0a0a0" stroke-width="0.85"/>
<text x="22.9" y="90.20" text-anchor="end" font-size="7.8" fill="#333" stroke="#333" stroke-width="0.15">6</text>
<line x1="24.1" y1="71.10" x2="28.5" y2="71.10" stroke="#a0a0a0" stroke-width="0.85"/>
<text x="22.9" y="73.90" text-anchor="end" font-size="7.8" fill="#333" stroke="#333" stroke-width="0.15">8</text>
<line x1="24.1" y1="54.80" x2="28.5" y2="54.80" stroke="#a0a0a0" stroke-width="0.85"/>
<text x="22.9" y="57.60" text-anchor="end" font-size="7.8" fill="#333" stroke="#333" stroke-width="0.15">10</text>
<line x1="34.00" y1="120.0" x2="34.00" y2="124.5" stroke="#a0a0a0" stroke-width="0.85"/>
<text x="34.00" y="132.90" text-anchor="middle" font-size="7.8" fill="#333" stroke="#333" stroke-width="0.15">0</text>
<line x1="57.65" y1="120.0" x2="57.65" y2="124.5" stroke="#a0a0a0" stroke-width="0.85"/>
<text x="57.65" y="132.90" text-anchor="middle" font-size="7.8" fill="#333" stroke="#333" stroke-width="0.15">20</text>
<line x1="81.30" y1="120.0" x2="81.30" y2="124.5" stroke="#a0a0a0" stroke-width="0.85"/>
<text x="81.30" y="132.90" text-anchor="middle" font-size="7.8" fill="#333" stroke="#333" stroke-width="0.15">40</text>
<line x1="104.95" y1="120.0" x2="104.95" y2="124.5" stroke="#a0a0a0" stroke-width="0.85"/>
<text x="104.95" y="132.90" text-anchor="middle" font-size="7.8" fill="#333" stroke="#333" stroke-width="0.15">60</text>
<line x1="128.60" y1="120.0" x2="128.60" y2="124.5" stroke="#a0a0a0" stroke-width="0.85"/>
<text x="128.60" y="132.90" text-anchor="middle" font-size="7.8" fill="#333" stroke="#333" stroke-width="0.15">80</text>
<text x="79.3" y="144.3" text-anchor="middle" font-size="8.1" font-weight="bold" fill="#111" stroke="#111" stroke-width="0.2">Major osteoporotic fracture (%)</text>
<text transform="translate(13.0,83.6) rotate(-90)" text-anchor="middle" font-size="8.1" font-weight="bold" fill="#111" stroke="#111" stroke-width="0.2">SMI (kg/m<tspan font-size="5.2" dy="-3">2</tspan><tspan dy="3">)</tspan></text>
<g fill="#3b55b2">
<circle cx="37.0" cy="70.9" r="0.85"/>
<circle cx="37.1" cy="62.9" r="0.85"/>
<circle cx="37.1" cy="82.6" r="0.85"/>
<circle cx="37.1" cy="69.4" r="0.85"/>
<circle cx="37.2" cy="70.9" r="0.85"/>
<circle cx="37.2" cy="85.6" r="0.85"/>
<circle cx="37.3" cy="82.7" r="0.85"/>
<circle cx="37.4" cy="81.1" r="0.85"/>
<circle cx="37.5" cy="80.1" r="0.85"/>
<circle cx="37.6" cy="74.0" r="0.85"/>
<circle cx="37.6" cy="71.9" r="0.85"/>
<circle cx="37.7" cy="71.8" r="0.85"/>
<circle cx="37.7" cy="82.3" r="0.85"/>
<circle cx="37.8" cy="84.5" r="0.85"/>
<circle cx="37.8" cy="67.8" r="0.85"/>
<circle cx="38.0" cy="77.3" r="0.85"/>
<circle cx="38.0" cy="72.4" r="0.85"/>
<circle cx="38.1" cy="77.5" r="0.85"/>
<circle cx="38.2" cy="58.2" r="0.85"/>
<circle cx="38.3" cy="83.8" r="0.85"/>
<circle cx="38.3" cy="76.5" r="0.85"/>
<circle cx="38.4" cy="66.7" r="0.85"/>
<circle cx="38.5" cy="61.0" r="0.85"/>
<circle cx="38.6" cy="74.8" r="0.85"/>
<circle cx="38.7" cy="88.4" r="0.85"/>
<circle cx="38.7" cy="93.2" r="0.85"/>
<circle cx="38.8" cy="90.6" r="0.85"/>
<circle cx="38.8" cy="78.8" r="0.85"/>
<circle cx="38.9" cy="88.6" r="0.85"/>
<circle cx="38.9" cy="80.5" r="0.85"/>
<circle cx="39.0" cy="77.4" r="0.85"/>
<circle cx="39.0" cy="72.3" r="0.85"/>
<circle cx="39.1" cy="74.5" r="0.85"/>
<circle cx="39.1" cy="75.4" r="0.85"/>
<circle cx="39.2" cy="93.3" r="0.85"/>
<circle cx="39.2" cy="78.3" r="0.85"/>
<circle cx="39.3" cy="78.4" r="0.85"/>
<circle cx="39.3" cy="77.7" r="0.85"/>
<circle cx="39.4" cy="74.0" r="0.85"/>
<circle cx="39.5" cy="78.2" r="0.85"/>
<circle cx="39.5" cy="84.4" r="0.85"/>
<circle cx="39.6" cy="84.8" r="0.85"/>
<circle cx="39.7" cy="62.8" r="0.85"/>
<circle cx="39.7" cy="54.9" r="0.85"/>
<circle cx="39.8" cy="81.7" r="0.85"/>
<circle cx="39.8" cy="80.9" r="0.85"/>
<circle cx="39.9" cy="63.5" r="0.85"/>
<circle cx="40.0" cy="74.5" r="0.85"/>
<circle cx="40.0" cy="92.0" r="0.85"/>
<circle cx="40.1" cy="67.2" r="0.85"/>
<circle cx="40.2" cy="83.0" r="0.85"/>
<circle cx="40.2" cy="72.7" r="0.85"/>
<circle cx="40.3" cy="65.4" r="0.85"/>
<circle cx="40.3" cy="77.9" r="0.85"/>
<circle cx="40.4" cy="79.5" r="0.85"/>
<circle cx="40.5" cy="85.7" r="0.85"/>
<circle cx="40.6" cy="68.9" r="0.85"/>
<circle cx="40.7" cy="77.8" r="0.85"/>
<circle cx="40.7" cy="72.4" r="0.85"/>
<circle cx="40.8" cy="85.2" r="0.85"/>
<circle cx="40.9" cy="89.0" r="0.85"/>
<circle cx="40.9" cy="86.0" r="0.85"/>
<circle cx="41.0" cy="78.7" r="0.85"/>
<circle cx="41.0" cy="81.1" r="0.85"/>
<circle cx="41.1" cy="92.2" r="0.85"/>
<circle cx="41.2" cy="73.5" r="0.85"/>
<circle cx="41.2" cy="70.9" r="0.85"/>
<circle cx="41.3" cy="78.4" r="0.85"/>
<circle cx="41.3" cy="71.7" r="0.85"/>
<circle cx="41.4" cy="66.0" r="0.85"/>
<circle cx="41.5" cy="82.1" r="0.85"/>
<circle cx="41.5" cy="87.4" r="0.85"/>
<circle cx="41.6" cy="76.8" r="0.85"/>
<circle cx="41.7" cy="80.5" r="0.85"/>
<circle cx="41.7" cy="91.4" r="0.85"/>
<circle cx="41.8" cy="88.3" r="0.85"/>
<circle cx="41.9" cy="62.3" r="0.85"/>
<circle cx="41.9" cy="94.3" r="0.85"/>
<circle cx="42.0" cy="64.0" r="0.85"/>
<circle cx="42.1" cy="79.6" r="0.85"/>
<circle cx="42.2" cy="76.1" r="0.85"/>
<circle cx="42.2" cy="77.3" r="0.85"/>
<circle cx="42.3" cy="72.3" r="0.85"/>
<circle cx="42.4" cy="68.9" r="0.85"/>
<circle cx="42.4" cy="72.2" r="0.85"/>
<circle cx="42.5" cy="79.7" r="0.85"/>
<circle cx="42.6" cy="93.2" r="0.85"/>
<circle cx="42.6" cy="69.1" r="0.85"/>
<circle cx="42.8" cy="90.0" r="0.85"/>
<circle cx="42.8" cy="87.8" r="0.85"/>
<circle cx="42.9" cy="81.2" r="0.85"/>
<circle cx="43.0" cy="80.5" r="0.85"/>
<circle cx="43.0" cy="87.4" r="0.85"/>
<circle cx="43.1" cy="79.8" r="0.85"/>
<circle cx="43.2" cy="80.8" r="0.85"/>
<circle cx="43.3" cy="80.5" r="0.85"/>
<circle cx="43.3" cy="80.5" r="0.85"/>
<circle cx="43.4" cy="95.0" r="0.85"/>
<circle cx="43.5" cy="80.6" r="0.85"/>
<circle cx="43.5" cy="92.5" r="0.85"/>
<circle cx="43.7" cy="75.7" r="0.85"/>
<circle cx="43.8" cy="73.7" r="0.85"/>
<circle cx="43.8" cy="78.9" r="0.85"/>
<circle cx="43.9" cy="85.1" r="0.85"/>
<circle cx="44.0" cy="77.9" r="0.85"/>
<circle cx="44.1" cy="82.7" r="0.85"/>
<circle cx="44.2" cy="71.3" r="0.85"/>
<circle cx="44.3" cy="89.4" r="0.85"/>
<circle cx="44.3" cy="80.3" r="0.85"/>
<circle cx="44.4" cy="87.3" r="0.85"/>
<circle cx="44.5" cy="65.8" r="0.85"/>
<circle cx="44.6" cy="84.8" r="0.85"/>
<circle cx="44.7" cy="93.0" r="0.85"/>
<circle cx="44.8" cy="92.3" r="0.85"/>
<circle cx="44.8" cy="81.2" r="0.85"/>
<circle cx="44.9" cy="75.6" r="0.85"/>
<circle cx="45.0" cy="87.9" r="0.85"/>
<circle cx="45.1" cy="91.0" r="0.85"/>
<circle cx="45.1" cy="80.4" r="0.85"/>
<circle cx="45.2" cy="70.5" r="0.85"/>
<circle cx="45.3" cy="86.9" r="0.85"/>
<circle cx="45.4" cy="80.0" r="0.85"/>
<circle cx="45.4" cy="77.7" r="0.85"/>
<circle cx="45.5" cy="91.8" r="0.85"/>
<circle cx="45.6" cy="85.4" r="0.85"/>
<circle cx="45.7" cy="96.7" r="0.85"/>
<circle cx="45.7" cy="84.8" r="0.85"/>
<circle cx="45.8" cy="70.6" r="0.85"/>
<circle cx="45.9" cy="93.4" r="0.85"/>
<circle cx="46.0" cy="84.5" r="0.85"/>
<circle cx="46.1" cy="70.4" r="0.85"/>
<circle cx="46.2" cy="68.4" r="0.85"/>
<circle cx="46.2" cy="89.5" r="0.85"/>
<circle cx="46.3" cy="76.2" r="0.85"/>
<circle cx="46.4" cy="93.1" r="0.85"/>
<circle cx="46.5" cy="93.5" r="0.85"/>
<circle cx="46.6" cy="88.9" r="0.85"/>
<circle cx="46.7" cy="86.7" r="0.85"/>
<circle cx="46.8" cy="70.5" r="0.85"/>
<circle cx="46.9" cy="69.9" r="0.85"/>
<circle cx="46.9" cy="75.7" r="0.85"/>
<circle cx="47.0" cy="93.6" r="0.85"/>
<circle cx="47.1" cy="72.3" r="0.85"/>
<circle cx="47.2" cy="86.6" r="0.85"/>
<circle cx="47.3" cy="89.6" r="0.85"/>
<circle cx="47.4" cy="86.8" r="0.85"/>
<circle cx="47.5" cy="70.6" r="0.85"/>
<circle cx="47.5" cy="73.6" r="0.85"/>
<circle cx="47.7" cy="91.7" r="0.85"/>
<circle cx="47.7" cy="89.1" r="0.85"/>
<circle cx="47.8" cy="86.5" r="0.85"/>
<circle cx="48.0" cy="93.9" r="0.85"/>
<circle cx="48.0" cy="80.8" r="0.85"/>
<circle cx="48.2" cy="79.9" r="0.85"/>
<circle cx="48.2" cy="66.0" r="0.85"/>
<circle cx="48.3" cy="89.0" r="0.85"/>
<circle cx="48.4" cy="72.8" r="0.85"/>
<circle cx="48.5" cy="81.4" r="0.85"/>
<circle cx="48.6" cy="98.5" r="0.85"/>
<circle cx="48.7" cy="89.1" r="0.85"/>
<circle cx="48.9" cy="70.4" r="0.85"/>
<circle cx="48.9" cy="85.5" r="0.85"/>
<circle cx="49.1" cy="96.4" r="0.85"/>
<circle cx="49.2" cy="87.7" r="0.85"/>
<circle cx="49.3" cy="88.5" r="0.85"/>
<circle cx="49.4" cy="70.5" r="0.85"/>
<circle cx="49.6" cy="81.7" r="0.85"/>
<circle cx="49.7" cy="86.1" r="0.85"/>
<circle cx="49.9" cy="84.8" r="0.85"/>
<circle cx="49.9" cy="66.8" r="0.85"/>
<circle cx="50.1" cy="95.7" r="0.85"/>
<circle cx="50.2" cy="83.7" r="0.85"/>
<circle cx="50.4" cy="87.0" r="0.85"/>
<circle cx="50.5" cy="91.6" r="0.85"/>
<circle cx="50.6" cy="86.4" r="0.85"/>
<circle cx="50.8" cy="85.6" r="0.85"/>
<circle cx="50.9" cy="94.8" r="0.85"/>
<circle cx="51.0" cy="92.3" r="0.85"/>
<circle cx="51.2" cy="81.9" r="0.85"/>
<circle cx="51.3" cy="92.3" r="0.85"/>
<circle cx="51.5" cy="84.9" r="0.85"/>
<circle cx="51.6" cy="89.2" r="0.85"/>
<circle cx="51.7" cy="77.2" r="0.85"/>
<circle cx="51.9" cy="89.3" r="0.85"/>
<circle cx="52.1" cy="86.6" r="0.85"/>
<circle cx="52.1" cy="89.9" r="0.85"/>
<circle cx="52.3" cy="99.6" r="0.85"/>
<circle cx="52.5" cy="89.7" r="0.85"/>
<circle cx="52.6" cy="98.3" r="0.85"/>
<circle cx="52.8" cy="80.0" r="0.85"/>
<circle cx="52.9" cy="88.4" r="0.85"/>
<circle cx="53.1" cy="89.0" r="0.85"/>
<circle cx="53.3" cy="98.0" r="0.85"/>
<circle cx="53.5" cy="91.8" r="0.85"/>
<circle cx="53.5" cy="84.0" r="0.85"/>
<circle cx="53.8" cy="94.8" r="0.85"/>
<circle cx="53.9" cy="90.3" r="0.85"/>
<circle cx="54.0" cy="93.9" r="0.85"/>
<circle cx="54.2" cy="97.1" r="0.85"/>
<circle cx="54.4" cy="100.1" r="0.85"/>
<circle cx="54.6" cy="90.8" r="0.85"/>
<circle cx="54.7" cy="99.4" r="0.85"/>
<circle cx="54.9" cy="93.9" r="0.85"/>
<circle cx="55.1" cy="84.8" r="0.85"/>
<circle cx="55.3" cy="97.8" r="0.85"/>
<circle cx="55.5" cy="68.0" r="0.85"/>
<circle cx="55.5" cy="88.9" r="0.85"/>
<circle cx="55.8" cy="80.2" r="0.85"/>
<circle cx="56.0" cy="73.6" r="0.85"/>
<circle cx="56.1" cy="81.1" r="0.85"/>
<circle cx="56.4" cy="83.5" r="0.85"/>
<circle cx="56.5" cy="88.8" r="0.85"/>
<circle cx="56.7" cy="71.7" r="0.85"/>
<circle cx="56.9" cy="93.6" r="0.85"/>
<circle cx="57.1" cy="81.3" r="0.85"/>
<circle cx="57.2" cy="88.4" r="0.85"/>
<circle cx="57.4" cy="80.6" r="0.85"/>
<circle cx="57.6" cy="72.3" r="0.85"/>
<circle cx="57.9" cy="90.2" r="0.85"/>
<circle cx="58.0" cy="83.6" r="0.85"/>
<circle cx="58.1" cy="93.9" r="0.85"/>
<circle cx="58.4" cy="92.0" r="0.85"/>
<circle cx="58.6" cy="98.1" r="0.85"/>
<circle cx="58.8" cy="98.8" r="0.85"/>
<circle cx="58.9" cy="101.7" r="0.85"/>
<circle cx="59.1" cy="94.0" r="0.85"/>
<circle cx="59.3" cy="85.1" r="0.85"/>
<circle cx="59.6" cy="92.8" r="0.85"/>
<circle cx="59.7" cy="76.1" r="0.85"/>
<circle cx="59.9" cy="103.8" r="0.85"/>
<circle cx="60.0" cy="100.5" r="0.85"/>
<circle cx="60.3" cy="100.6" r="0.85"/>
<circle cx="60.6" cy="82.3" r="0.85"/>
<circle cx="60.7" cy="90.2" r="0.85"/>
<circle cx="61.0" cy="75.7" r="0.85"/>
<circle cx="61.2" cy="100.4" r="0.85"/>
<circle cx="61.5" cy="78.6" r="0.85"/>
<circle cx="61.5" cy="95.3" r="0.85"/>
<circle cx="61.8" cy="93.0" r="0.85"/>
<circle cx="62.0" cy="89.2" r="0.85"/>
<circle cx="62.3" cy="97.3" r="0.85"/>
<circle cx="62.5" cy="94.0" r="0.85"/>
<circle cx="62.7" cy="93.8" r="0.85"/>
<circle cx="63.0" cy="88.5" r="0.85"/>
<circle cx="63.3" cy="79.6" r="0.85"/>
<circle cx="63.4" cy="99.8" r="0.85"/>
<circle cx="63.6" cy="70.8" r="0.85"/>
<circle cx="63.9" cy="93.6" r="0.85"/>
<circle cx="64.1" cy="88.1" r="0.85"/>
<circle cx="64.3" cy="83.5" r="0.85"/>
<circle cx="64.7" cy="91.5" r="0.85"/>
<circle cx="64.7" cy="84.6" r="0.85"/>
<circle cx="65.0" cy="88.3" r="0.85"/>
<circle cx="65.4" cy="97.4" r="0.85"/>
<circle cx="65.5" cy="83.4" r="0.85"/>
<circle cx="65.8" cy="82.6" r="0.85"/>
<circle cx="66.0" cy="92.5" r="0.85"/>
<circle cx="66.3" cy="83.1" r="0.85"/>
<circle cx="66.7" cy="88.5" r="0.85"/>
<circle cx="66.8" cy="83.9" r="0.85"/>
<circle cx="67.2" cy="88.8" r="0.85"/>
<circle cx="67.6" cy="85.8" r="0.85"/>
<circle cx="67.6" cy="98.0" r="0.85"/>
<circle cx="68.0" cy="93.4" r="0.85"/>
<circle cx="68.4" cy="95.0" r="0.85"/>
<circle cx="68.6" cy="83.1" r="0.85"/>
<circle cx="69.1" cy="99.2" r="0.85"/>
<circle cx="69.4" cy="87.3" r="0.85"/>
<circle cx="69.7" cy="90.1" r="0.85"/>
<circle cx="70.0" cy="78.3" r="0.85"/>
<circle cx="70.3" cy="96.2" r="0.85"/>
<circle cx="70.5" cy="100.9" r="0.85"/>
<circle cx="70.9" cy="97.6" r="0.85"/>
<circle cx="71.2" cy="92.4" r="0.85"/>
<circle cx="71.6" cy="92.2" r="0.85"/>
<circle cx="72.1" cy="90.4" r="0.85"/>
<circle cx="72.1" cy="98.0" r="0.85"/>
<circle cx="72.7" cy="79.6" r="0.85"/>
<circle cx="73.0" cy="99.2" r="0.85"/>
<circle cx="110.0" cy="92.7" r="0.85"/>
<circle cx="119.5" cy="92.5" r="0.85"/>
<circle cx="99.3" cy="84.5" r="0.85"/>
<circle cx="89.8" cy="80.2" r="0.85"/>
<circle cx="86.3" cy="80.7" r="0.85"/>
<circle cx="79.0" cy="78.7" r="0.85"/>
<circle cx="80.5" cy="80.7" r="0.85"/>
<circle cx="81.5" cy="85.7" r="0.85"/>
<circle cx="82.8" cy="86.7" r="0.85"/>
<circle cx="85.0" cy="86.2" r="0.85"/>
<circle cx="91.0" cy="88.2" r="0.85"/>
<circle cx="94.5" cy="91.7" r="0.85"/>
<circle cx="97.0" cy="94.2" r="0.85"/>
<circle cx="95.8" cy="95.7" r="0.85"/>
<circle cx="96.0" cy="97.2" r="0.85"/>
<circle cx="93.5" cy="97.7" r="0.85"/>
<circle cx="94.5" cy="100.7" r="0.85"/>
<circle cx="88.8" cy="92.2" r="0.85"/>
<circle cx="88.8" cy="93.7" r="0.85"/>
<circle cx="88.8" cy="99.2" r="0.85"/>
<circle cx="85.0" cy="96.7" r="0.85"/>
<circle cx="86.0" cy="96.2" r="0.85"/>
<circle cx="84.5" cy="99.2" r="0.85"/>
<circle cx="85.2" cy="101.5" r="0.85"/>
<circle cx="86.5" cy="104.7" r="0.85"/>
<circle cx="92.2" cy="105.2" r="0.85"/>
<circle cx="81.5" cy="94.7" r="0.85"/>
<circle cx="79.0" cy="95.2" r="0.85"/>
<circle cx="78.0" cy="93.7" r="0.85"/>
<circle cx="79.2" cy="98.9" r="0.85"/>
<circle cx="75.5" cy="87.7" r="0.85"/>
<circle cx="76.5" cy="90.7" r="0.85"/>
<circle cx="75.0" cy="91.7" r="0.85"/>
<circle cx="75.5" cy="93.7" r="0.85"/>
<circle cx="74.5" cy="95.2" r="0.85"/>
<circle cx="73.0" cy="93.7" r="0.85"/>
<circle cx="73.2" cy="97.5" r="0.85"/>
<circle cx="73.2" cy="101.2" r="0.85"/>
<circle cx="123.0" cy="94.7" r="0.85"/>
<circle cx="37.6" cy="54.1" r="0.85"/>
<circle cx="39.6" cy="55.3" r="0.85"/>
</g>
</g>
<g transform="translate(0,158.3)">
<text x="148.4" y="35.4" font-size="8.0" fill="#333" stroke="#333" stroke-width="0.15">(F)</text>
<text x="216.5" y="48.7" font-size="8.0" fill="#333" stroke="#333" stroke-width="0.15"><tspan font-style="italic">r</tspan> = − 0.524</text>
<text x="216.5" y="60.55" font-size="8.0" fill="#333" stroke="#333" stroke-width="0.15"><tspan font-style="italic">p</tspan> &lt; 0.001</text>
<line x1="162.8" y1="76.9" x2="268.3" y2="118.0" stroke="#cdcdcd" stroke-width="0.9"/>
<path d="M162.8 47.8V120.0H268.3" fill="none" stroke="#a0a0a0" stroke-width="0.85"/>
<line x1="158.4" y1="120.00" x2="162.8" y2="120.00" stroke="#a0a0a0" stroke-width="0.85"/>
<text x="157.2" y="122.80" text-anchor="end" font-size="7.8" fill="#333" stroke="#333" stroke-width="0.15">2</text>
<line x1="158.4" y1="103.70" x2="162.8" y2="103.70" stroke="#a0a0a0" stroke-width="0.85"/>
<text x="157.2" y="106.50" text-anchor="end" font-size="7.8" fill="#333" stroke="#333" stroke-width="0.15">4</text>
<line x1="158.4" y1="87.40" x2="162.8" y2="87.40" stroke="#a0a0a0" stroke-width="0.85"/>
<text x="157.2" y="90.20" text-anchor="end" font-size="7.8" fill="#333" stroke="#333" stroke-width="0.15">6</text>
<line x1="158.4" y1="71.10" x2="162.8" y2="71.10" stroke="#a0a0a0" stroke-width="0.85"/>
<text x="157.2" y="73.90" text-anchor="end" font-size="7.8" fill="#333" stroke="#333" stroke-width="0.15">8</text>
<line x1="158.4" y1="54.80" x2="162.8" y2="54.80" stroke="#a0a0a0" stroke-width="0.85"/>
<text x="157.2" y="57.60" text-anchor="end" font-size="7.8" fill="#333" stroke="#333" stroke-width="0.15">10</text>
<line x1="167.90" y1="120.0" x2="167.90" y2="124.5" stroke="#a0a0a0" stroke-width="0.85"/>
<text x="167.90" y="132.90" text-anchor="middle" font-size="7.8" fill="#333" stroke="#333" stroke-width="0.15">0</text>
<line x1="194.90" y1="120.0" x2="194.90" y2="124.5" stroke="#a0a0a0" stroke-width="0.85"/>
<text x="194.90" y="132.90" text-anchor="middle" font-size="7.8" fill="#333" stroke="#333" stroke-width="0.15">20</text>
<line x1="221.90" y1="120.0" x2="221.90" y2="124.5" stroke="#a0a0a0" stroke-width="0.85"/>
<text x="221.90" y="132.90" text-anchor="middle" font-size="7.8" fill="#333" stroke="#333" stroke-width="0.15">40</text>
<line x1="248.90" y1="120.0" x2="248.90" y2="124.5" stroke="#a0a0a0" stroke-width="0.85"/>
<text x="248.90" y="132.90" text-anchor="middle" font-size="7.8" fill="#333" stroke="#333" stroke-width="0.15">60</text>
<text x="213.5" y="144.3" text-anchor="middle" font-size="8.1" font-weight="bold" fill="#111" stroke="#111" stroke-width="0.2">Hip fracture (%)</text>
<text transform="translate(147.3,83.6) rotate(-90)" text-anchor="middle" font-size="8.1" font-weight="bold" fill="#111" stroke="#111" stroke-width="0.2">SMI (kg/m<tspan font-size="5.2" dy="-3">2</tspan><tspan dy="3">)</tspan></text>
<g fill="#3b55b2">
<circle cx="168.5" cy="75.6" r="0.85"/>
<circle cx="168.5" cy="61.3" r="0.85"/>
<circle cx="168.5" cy="75.9" r="0.85"/>
<circle cx="168.5" cy="88.3" r="0.85"/>
<circle cx="168.5" cy="71.5" r="0.85"/>
<circle cx="168.5" cy="81.4" r="0.85"/>
<circle cx="168.6" cy="75.8" r="0.85"/>
<circle cx="168.6" cy="63.9" r="0.85"/>
<circle cx="168.6" cy="65.0" r="0.85"/>
<circle cx="168.7" cy="79.2" r="0.85"/>
<circle cx="168.7" cy="80.1" r="0.85"/>
<circle cx="168.7" cy="73.2" r="0.85"/>
<circle cx="168.7" cy="80.4" r="0.85"/>
<circle cx="168.8" cy="79.6" r="0.85"/>
<circle cx="168.8" cy="79.6" r="0.85"/>
<circle cx="168.8" cy="81.5" r="0.85"/>
<circle cx="168.9" cy="73.8" r="0.85"/>
<circle cx="168.9" cy="74.5" r="0.85"/>
<circle cx="168.9" cy="85.5" r="0.85"/>
<circle cx="168.9" cy="77.1" r="0.85"/>
<circle cx="169.0" cy="66.9" r="0.85"/>
<circle cx="169.0" cy="84.7" r="0.85"/>
<circle cx="169.1" cy="65.5" r="0.85"/>
<circle cx="169.1" cy="66.3" r="0.85"/>
<circle cx="169.1" cy="80.8" r="0.85"/>
<circle cx="169.2" cy="67.9" r="0.85"/>
<circle cx="169.3" cy="71.5" r="0.85"/>
<circle cx="169.3" cy="78.0" r="0.85"/>
<circle cx="169.3" cy="88.3" r="0.85"/>
<circle cx="169.4" cy="68.2" r="0.85"/>
<circle cx="169.4" cy="85.4" r="0.85"/>
<circle cx="169.5" cy="76.6" r="0.85"/>
<circle cx="169.5" cy="71.5" r="0.85"/>
<circle cx="169.6" cy="79.8" r="0.85"/>
<circle cx="169.6" cy="74.0" r="0.85"/>
<circle cx="169.6" cy="79.7" r="0.85"/>
<circle cx="169.7" cy="76.5" r="0.85"/>
<circle cx="169.7" cy="77.1" r="0.85"/>
<circle cx="169.7" cy="86.8" r="0.85"/>
<circle cx="169.7" cy="84.9" r="0.85"/>
<circle cx="169.8" cy="82.2" r="0.85"/>
<circle cx="169.8" cy="80.3" r="0.85"/>
<circle cx="169.8" cy="82.6" r="0.85"/>
<circle cx="169.9" cy="80.1" r="0.85"/>
<circle cx="169.9" cy="77.3" r="0.85"/>
<circle cx="169.9" cy="70.9" r="0.85"/>
<circle cx="170.0" cy="70.1" r="0.85"/>
<circle cx="170.0" cy="61.8" r="0.85"/>
<circle cx="170.0" cy="79.4" r="0.85"/>
<circle cx="170.1" cy="77.8" r="0.85"/>
<circle cx="170.1" cy="80.3" r="0.85"/>
<circle cx="170.1" cy="72.7" r="0.85"/>
<circle cx="170.2" cy="89.7" r="0.85"/>
<circle cx="170.2" cy="84.4" r="0.85"/>
<circle cx="170.2" cy="73.0" r="0.85"/>
<circle cx="170.3" cy="82.9" r="0.85"/>
<circle cx="170.3" cy="83.7" r="0.85"/>
<circle cx="170.3" cy="81.2" r="0.85"/>
<circle cx="170.4" cy="88.4" r="0.85"/>
<circle cx="170.4" cy="94.9" r="0.85"/>
<circle cx="170.4" cy="78.2" r="0.85"/>
<circle cx="170.5" cy="82.1" r="0.85"/>
<circle cx="170.6" cy="88.7" r="0.85"/>
<circle cx="170.6" cy="80.1" r="0.85"/>
<circle cx="170.6" cy="63.4" r="0.85"/>
<circle cx="170.7" cy="77.5" r="0.85"/>
<circle cx="170.7" cy="87.4" r="0.85"/>
<circle cx="170.8" cy="63.9" r="0.85"/>
<circle cx="170.8" cy="68.3" r="0.85"/>
<circle cx="170.9" cy="87.0" r="0.85"/>
<circle cx="170.9" cy="93.3" r="0.85"/>
<circle cx="170.9" cy="85.5" r="0.85"/>
<circle cx="171.0" cy="71.1" r="0.85"/>
<circle cx="171.1" cy="92.2" r="0.85"/>
<circle cx="171.1" cy="82.5" r="0.85"/>
<circle cx="171.1" cy="82.4" r="0.85"/>
<circle cx="171.2" cy="70.7" r="0.85"/>
<circle cx="171.3" cy="78.5" r="0.85"/>
<circle cx="171.3" cy="85.3" r="0.85"/>
<circle cx="171.4" cy="82.8" r="0.85"/>
<circle cx="171.4" cy="79.7" r="0.85"/>
<circle cx="171.4" cy="85.3" r="0.85"/>
<circle cx="171.5" cy="73.7" r="0.85"/>
<circle cx="171.5" cy="85.4" r="0.85"/>
<circle cx="171.6" cy="84.9" r="0.85"/>
<circle cx="171.6" cy="82.6" r="0.85"/>
<circle cx="171.6" cy="76.9" r="0.85"/>
<circle cx="171.7" cy="66.5" r="0.85"/>
<circle cx="171.7" cy="86.4" r="0.85"/>
<circle cx="171.7" cy="90.2" r="0.85"/>
<circle cx="171.8" cy="72.1" r="0.85"/>
<circle cx="171.8" cy="74.6" r="0.85"/>
<circle cx="171.8" cy="87.4" r="0.85"/>
<circle cx="171.9" cy="80.7" r="0.85"/>
<circle cx="171.9" cy="81.2" r="0.85"/>
<circle cx="171.9" cy="78.8" r="0.85"/>
<circle cx="172.0" cy="77.3" r="0.85"/>
<circle cx="172.0" cy="80.0" r="0.85"/>
<circle cx="172.1" cy="71.6" r="0.85"/>
<circle cx="172.1" cy="82.5" r="0.85"/>
<circle cx="172.1" cy="83.4" r="0.85"/>
<circle cx="172.2" cy="88.8" r="0.85"/>
<circle cx="172.2" cy="91.4" r="0.85"/>
<circle cx="172.2" cy="73.7" r="0.85"/>
<circle cx="172.3" cy="79.1" r="0.85"/>
<circle cx="172.3" cy="82.8" r="0.85"/>
<circle cx="172.4" cy="84.3" r="0.85"/>
<circle cx="172.4" cy="92.2" r="0.85"/>
<circle cx="172.5" cy="79.0" r="0.85"/>
<circle cx="172.5" cy="83.2" r="0.85"/>
<circle cx="172.5" cy="86.3" r="0.85"/>
<circle cx="172.6" cy="87.6" r="0.85"/>
<circle cx="172.6" cy="83.8" r="0.85"/>
<circle cx="172.7" cy="72.0" r="0.85"/>
<circle cx="172.7" cy="70.0" r="0.85"/>
<circle cx="172.8" cy="90.6" r="0.85"/>
<circle cx="172.8" cy="87.5" r="0.85"/>
<circle cx="172.8" cy="91.7" r="0.85"/>
<circle cx="172.9" cy="72.3" r="0.85"/>
<circle cx="172.9" cy="87.4" r="0.85"/>
<circle cx="173.0" cy="68.3" r="0.85"/>
<circle cx="173.0" cy="89.4" r="0.85"/>
<circle cx="173.1" cy="86.3" r="0.85"/>
<circle cx="173.1" cy="79.5" r="0.85"/>
<circle cx="173.2" cy="88.3" r="0.85"/>
<circle cx="173.2" cy="82.1" r="0.85"/>
<circle cx="173.2" cy="85.1" r="0.85"/>
<circle cx="173.3" cy="87.7" r="0.85"/>
<circle cx="173.4" cy="75.5" r="0.85"/>
<circle cx="173.4" cy="88.2" r="0.85"/>
<circle cx="173.5" cy="85.1" r="0.85"/>
<circle cx="173.5" cy="95.9" r="0.85"/>
<circle cx="173.6" cy="92.3" r="0.85"/>
<circle cx="173.6" cy="76.4" r="0.85"/>
<circle cx="173.7" cy="61.4" r="0.85"/>
<circle cx="173.7" cy="83.3" r="0.85"/>
<circle cx="173.8" cy="87.7" r="0.85"/>
<circle cx="173.8" cy="90.7" r="0.85"/>
<circle cx="173.9" cy="83.7" r="0.85"/>
<circle cx="173.9" cy="73.1" r="0.85"/>
<circle cx="174.0" cy="61.0" r="0.85"/>
<circle cx="174.1" cy="72.0" r="0.85"/>
<circle cx="174.1" cy="66.0" r="0.85"/>
<circle cx="174.2" cy="83.6" r="0.85"/>
<circle cx="174.2" cy="84.8" r="0.85"/>
<circle cx="174.3" cy="85.3" r="0.85"/>
<circle cx="174.4" cy="92.0" r="0.85"/>
<circle cx="174.4" cy="85.8" r="0.85"/>
<circle cx="174.4" cy="80.7" r="0.85"/>
<circle cx="174.5" cy="80.3" r="0.85"/>
<circle cx="174.6" cy="91.3" r="0.85"/>
<circle cx="174.6" cy="95.3" r="0.85"/>
<circle cx="174.7" cy="94.2" r="0.85"/>
<circle cx="174.8" cy="91.1" r="0.85"/>
<circle cx="174.8" cy="90.0" r="0.85"/>
<circle cx="174.9" cy="89.7" r="0.85"/>
<circle cx="174.9" cy="90.2" r="0.85"/>
<circle cx="175.0" cy="81.9" r="0.85"/>
<circle cx="175.1" cy="75.0" r="0.85"/>
<circle cx="175.1" cy="75.2" r="0.85"/>
<circle cx="175.2" cy="86.3" r="0.85"/>
<circle cx="175.3" cy="92.1" r="0.85"/>
<circle cx="175.3" cy="72.8" r="0.85"/>
<circle cx="175.4" cy="92.6" r="0.85"/>
<circle cx="175.5" cy="78.1" r="0.85"/>
<circle cx="175.5" cy="93.5" r="0.85"/>
<circle cx="175.6" cy="68.3" r="0.85"/>
<circle cx="175.7" cy="74.0" r="0.85"/>
<circle cx="175.8" cy="85.4" r="0.85"/>
<circle cx="175.9" cy="95.4" r="0.85"/>
<circle cx="175.9" cy="90.9" r="0.85"/>
<circle cx="176.0" cy="79.9" r="0.85"/>
<circle cx="176.1" cy="80.5" r="0.85"/>
<circle cx="176.1" cy="90.6" r="0.85"/>
<circle cx="176.2" cy="88.6" r="0.85"/>
<circle cx="176.3" cy="84.9" r="0.85"/>
<circle cx="176.4" cy="95.1" r="0.85"/>
<circle cx="176.5" cy="85.0" r="0.85"/>
<circle cx="176.6" cy="95.2" r="0.85"/>
<circle cx="176.6" cy="77.9" r="0.85"/>
<circle cx="176.8" cy="81.7" r="0.85"/>
<circle cx="176.8" cy="82.5" r="0.85"/>
<circle cx="176.9" cy="95.1" r="0.85"/>
<circle cx="177.0" cy="71.7" r="0.85"/>
<circle cx="177.0" cy="80.5" r="0.85"/>
<circle cx="177.1" cy="82.9" r="0.85"/>
<circle cx="177.2" cy="70.2" r="0.85"/>
<circle cx="177.3" cy="87.1" r="0.85"/>
<circle cx="177.4" cy="99.4" r="0.85"/>
<circle cx="177.5" cy="86.1" r="0.85"/>
<circle cx="177.6" cy="91.7" r="0.85"/>
<circle cx="177.7" cy="95.1" r="0.85"/>
<circle cx="177.8" cy="96.8" r="0.85"/>
<circle cx="177.9" cy="95.4" r="0.85"/>
<circle cx="178.0" cy="69.1" r="0.85"/>
<circle cx="178.1" cy="94.5" r="0.85"/>
<circle cx="178.1" cy="85.8" r="0.85"/>
<circle cx="178.3" cy="73.8" r="0.85"/>
<circle cx="178.3" cy="100.4" r="0.85"/>
<circle cx="178.4" cy="94.0" r="0.85"/>
<circle cx="178.6" cy="92.9" r="0.85"/>
<circle cx="178.7" cy="81.4" r="0.85"/>
<circle cx="178.7" cy="90.2" r="0.85"/>
<circle cx="178.8" cy="83.4" r="0.85"/>
<circle cx="178.9" cy="100.5" r="0.85"/>
<circle cx="179.1" cy="74.5" r="0.85"/>
<circle cx="179.2" cy="78.7" r="0.85"/>
<circle cx="179.3" cy="94.4" r="0.85"/>
<circle cx="179.4" cy="70.0" r="0.85"/>
<circle cx="179.5" cy="63.5" r="0.85"/>
<circle cx="179.7" cy="75.9" r="0.85"/>
<circle cx="179.7" cy="92.4" r="0.85"/>
<circle cx="179.8" cy="84.9" r="0.85"/>
<circle cx="180.0" cy="94.9" r="0.85"/>
<circle cx="180.1" cy="84.9" r="0.85"/>
<circle cx="180.1" cy="96.4" r="0.85"/>
<circle cx="180.3" cy="91.4" r="0.85"/>
<circle cx="180.4" cy="78.1" r="0.85"/>
<circle cx="180.5" cy="75.3" r="0.85"/>
<circle cx="180.6" cy="84.3" r="0.85"/>
<circle cx="180.8" cy="84.9" r="0.85"/>
<circle cx="181.0" cy="98.3" r="0.85"/>
<circle cx="181.0" cy="80.2" r="0.85"/>
<circle cx="181.2" cy="80.2" r="0.85"/>
<circle cx="181.3" cy="93.0" r="0.85"/>
<circle cx="181.4" cy="91.7" r="0.85"/>
<circle cx="181.5" cy="88.1" r="0.85"/>
<circle cx="181.6" cy="85.1" r="0.85"/>
<circle cx="181.8" cy="100.9" r="0.85"/>
<circle cx="182.0" cy="78.4" r="0.85"/>
<circle cx="182.1" cy="89.6" r="0.85"/>
<circle cx="182.2" cy="97.1" r="0.85"/>
<circle cx="182.4" cy="99.5" r="0.85"/>
<circle cx="182.5" cy="79.5" r="0.85"/>
<circle cx="182.7" cy="90.1" r="0.85"/>
<circle cx="182.9" cy="70.5" r="0.85"/>
<circle cx="183.0" cy="82.7" r="0.85"/>
<circle cx="183.1" cy="90.6" r="0.85"/>
<circle cx="183.3" cy="87.0" r="0.85"/>
<circle cx="183.4" cy="96.6" r="0.85"/>
<circle cx="183.6" cy="93.0" r="0.85"/>
<circle cx="183.9" cy="78.3" r="0.85"/>
<circle cx="184.0" cy="84.2" r="0.85"/>
<circle cx="184.2" cy="95.0" r="0.85"/>
<circle cx="184.3" cy="68.6" r="0.85"/>
<circle cx="184.4" cy="92.5" r="0.85"/>
<circle cx="184.8" cy="91.9" r="0.85"/>
<circle cx="184.9" cy="80.1" r="0.85"/>
<circle cx="185.1" cy="78.8" r="0.85"/>
<circle cx="185.3" cy="100.4" r="0.85"/>
<circle cx="185.4" cy="96.0" r="0.85"/>
<circle cx="185.6" cy="74.6" r="0.85"/>
<circle cx="185.8" cy="100.4" r="0.85"/>
<circle cx="186.0" cy="86.8" r="0.85"/>
<circle cx="186.1" cy="73.1" r="0.85"/>
<circle cx="186.3" cy="85.7" r="0.85"/>
<circle cx="186.5" cy="78.0" r="0.85"/>
<circle cx="186.8" cy="84.4" r="0.85"/>
<circle cx="187.0" cy="82.9" r="0.85"/>
<circle cx="187.1" cy="82.7" r="0.85"/>
<circle cx="187.4" cy="100.6" r="0.85"/>
<circle cx="187.6" cy="82.1" r="0.85"/>
<circle cx="187.9" cy="72.8" r="0.85"/>
<circle cx="188.0" cy="76.1" r="0.85"/>
<circle cx="188.2" cy="76.1" r="0.85"/>
<circle cx="188.4" cy="87.9" r="0.85"/>
<circle cx="188.6" cy="97.2" r="0.85"/>
<circle cx="188.9" cy="90.9" r="0.85"/>
<circle cx="189.1" cy="91.2" r="0.85"/>
<circle cx="189.4" cy="74.8" r="0.85"/>
<circle cx="189.6" cy="87.7" r="0.85"/>
<circle cx="189.8" cy="90.1" r="0.85"/>
<circle cx="190.0" cy="86.9" r="0.85"/>
<circle cx="233.0" cy="92.7" r="0.85"/>
<circle cx="210.0" cy="78.7" r="0.85"/>
<circle cx="197.8" cy="79.7" r="0.85"/>
<circle cx="207.2" cy="84.5" r="0.85"/>
<circle cx="210.0" cy="86.9" r="0.85"/>
<circle cx="200.5" cy="85.9" r="0.85"/>
<circle cx="202.0" cy="88.2" r="0.85"/>
<circle cx="210.0" cy="91.7" r="0.85"/>
<circle cx="215.3" cy="91.9" r="0.85"/>
<circle cx="219.5" cy="94.2" r="0.85"/>
<circle cx="215.3" cy="95.9" r="0.85"/>
<circle cx="201.8" cy="93.2" r="0.85"/>
<circle cx="204.5" cy="93.5" r="0.85"/>
<circle cx="207.2" cy="97.7" r="0.85"/>
<circle cx="201.8" cy="96.2" r="0.85"/>
<circle cx="203.2" cy="97.9" r="0.85"/>
<circle cx="203.2" cy="99.2" r="0.85"/>
<circle cx="200.5" cy="99.2" r="0.85"/>
<circle cx="201.8" cy="101.2" r="0.85"/>
<circle cx="211.2" cy="100.7" r="0.85"/>
<circle cx="208.5" cy="104.7" r="0.85"/>
<circle cx="211.5" cy="105.2" r="0.85"/>
<circle cx="192.5" cy="82.9" r="0.85"/>
<circle cx="191.0" cy="85.7" r="0.85"/>
<circle cx="192.5" cy="87.2" r="0.85"/>
<circle cx="192.5" cy="88.7" r="0.85"/>
<circle cx="195.0" cy="86.2" r="0.85"/>
<circle cx="195.0" cy="89.7" r="0.85"/>
<circle cx="195.0" cy="90.7" r="0.85"/>
<circle cx="192.5" cy="91.2" r="0.85"/>
<circle cx="190.0" cy="93.9" r="0.85"/>
<circle cx="191.5" cy="94.5" r="0.85"/>
<circle cx="193.0" cy="95.2" r="0.85"/>
<circle cx="194.5" cy="95.7" r="0.85"/>
<circle cx="196.0" cy="94.5" r="0.85"/>
<circle cx="196.0" cy="96.2" r="0.85"/>
<circle cx="192.5" cy="97.5" r="0.85"/>
<circle cx="193.5" cy="98.7" r="0.85"/>
<circle cx="195.0" cy="98.9" r="0.85"/>
<circle cx="198.0" cy="97.2" r="0.85"/>
<circle cx="192.5" cy="101.2" r="0.85"/>
<circle cx="253.4" cy="92.3" r="0.85"/>
<circle cx="252.0" cy="94.7" r="0.85"/>
<circle cx="168.4" cy="54.1" r="0.85"/>
<circle cx="168.4" cy="55.7" r="0.85"/>
</g>
</g>
<g transform="translate(0,158.3)">
<text x="286.2" y="35.4" font-size="8.0" fill="#333" stroke="#333" stroke-width="0.15">(G)</text>
<text x="355.6" y="48.7" font-size="8.0" fill="#333" stroke="#333" stroke-width="0.15"><tspan font-style="italic">r</tspan> = − 0.564</text>
<text x="355.6" y="60.55" font-size="8.0" fill="#333" stroke="#333" stroke-width="0.15"><tspan font-style="italic">p</tspan> &lt; 0.001</text>
<line x1="301.9" y1="84.6" x2="402.5" y2="119.9" stroke="#cdcdcd" stroke-width="0.9"/>
<path d="M301.9 47.8V120.0H407.0" fill="none" stroke="#a0a0a0" stroke-width="0.85"/>
<line x1="297.5" y1="120.00" x2="301.9" y2="120.00" stroke="#a0a0a0" stroke-width="0.85"/>
<text x="295.5" y="122.80" text-anchor="end" font-size="7.8" fill="#333" stroke="#333" stroke-width="0.15">0</text>
<line x1="297.5" y1="98.23" x2="301.9" y2="98.23" stroke="#a0a0a0" stroke-width="0.85"/>
<text x="295.5" y="101.03" text-anchor="end" font-size="7.8" fill="#333" stroke="#333" stroke-width="0.15">20</text>
<line x1="297.5" y1="76.47" x2="301.9" y2="76.47" stroke="#a0a0a0" stroke-width="0.85"/>
<text x="295.5" y="79.27" text-anchor="end" font-size="7.8" fill="#333" stroke="#333" stroke-width="0.15">40</text>
<line x1="297.5" y1="54.70" x2="301.9" y2="54.70" stroke="#a0a0a0" stroke-width="0.85"/>
<text x="295.5" y="57.50" text-anchor="end" font-size="7.8" fill="#333" stroke="#333" stroke-width="0.15">60</text>
<line x1="306.80" y1="120.0" x2="306.80" y2="124.5" stroke="#a0a0a0" stroke-width="0.85"/>
<text x="306.80" y="132.90" text-anchor="middle" font-size="7.8" fill="#333" stroke="#333" stroke-width="0.15">0</text>
<line x1="330.50" y1="120.0" x2="330.50" y2="124.5" stroke="#a0a0a0" stroke-width="0.85"/>
<text x="330.50" y="132.90" text-anchor="middle" font-size="7.8" fill="#333" stroke="#333" stroke-width="0.15">20</text>
<line x1="354.20" y1="120.0" x2="354.20" y2="124.5" stroke="#a0a0a0" stroke-width="0.85"/>
<text x="354.20" y="132.90" text-anchor="middle" font-size="7.8" fill="#333" stroke="#333" stroke-width="0.15">40</text>
<line x1="377.90" y1="120.0" x2="377.90" y2="124.5" stroke="#a0a0a0" stroke-width="0.85"/>
<text x="377.90" y="132.90" text-anchor="middle" font-size="7.8" fill="#333" stroke="#333" stroke-width="0.15">60</text>
<line x1="401.60" y1="120.0" x2="401.60" y2="124.5" stroke="#a0a0a0" stroke-width="0.85"/>
<text x="401.60" y="132.90" text-anchor="middle" font-size="7.8" fill="#333" stroke="#333" stroke-width="0.15">80</text>
<text x="352.8" y="144.3" text-anchor="middle" font-size="8.1" font-weight="bold" fill="#111" stroke="#111" stroke-width="0.2">Major osteoporotic fracture (%)</text>
<text transform="translate(282.4,82.6) rotate(-90)" text-anchor="middle" font-size="8.1" font-weight="bold" fill="#111" stroke="#111" stroke-width="0.2">Handgrip strength (kg)</text>
<g fill="#3b55b2">
<circle cx="309.8" cy="83.3" r="0.85"/>
<circle cx="309.8" cy="84.7" r="0.85"/>
<circle cx="309.9" cy="91.7" r="0.85"/>
<circle cx="310.0" cy="72.8" r="0.85"/>
<circle cx="310.0" cy="77.1" r="0.85"/>
<circle cx="310.1" cy="78.9" r="0.85"/>
<circle cx="310.1" cy="93.0" r="0.85"/>
<circle cx="310.2" cy="92.2" r="0.85"/>
<circle cx="310.3" cy="75.5" r="0.85"/>
<circle cx="310.3" cy="101.7" r="0.85"/>
<circle cx="310.4" cy="94.7" r="0.85"/>
<circle cx="310.5" cy="81.4" r="0.85"/>
<circle cx="310.5" cy="79.7" r="0.85"/>
<circle cx="310.6" cy="83.9" r="0.85"/>
<circle cx="310.7" cy="83.1" r="0.85"/>
<circle cx="310.7" cy="89.6" r="0.85"/>
<circle cx="310.8" cy="77.6" r="0.85"/>
<circle cx="310.9" cy="86.9" r="0.85"/>
<circle cx="310.9" cy="89.1" r="0.85"/>
<circle cx="311.0" cy="89.1" r="0.85"/>
<circle cx="311.1" cy="89.5" r="0.85"/>
<circle cx="311.2" cy="81.6" r="0.85"/>
<circle cx="311.3" cy="74.0" r="0.85"/>
<circle cx="311.4" cy="80.5" r="0.85"/>
<circle cx="311.5" cy="87.4" r="0.85"/>
<circle cx="311.5" cy="91.3" r="0.85"/>
<circle cx="311.6" cy="78.1" r="0.85"/>
<circle cx="311.6" cy="65.1" r="0.85"/>
<circle cx="311.7" cy="85.4" r="0.85"/>
<circle cx="311.8" cy="97.5" r="0.85"/>
<circle cx="311.8" cy="87.7" r="0.85"/>
<circle cx="311.9" cy="86.0" r="0.85"/>
<circle cx="311.9" cy="84.5" r="0.85"/>
<circle cx="311.9" cy="82.9" r="0.85"/>
<circle cx="312.0" cy="81.9" r="0.85"/>
<circle cx="312.1" cy="95.4" r="0.85"/>
<circle cx="312.1" cy="81.1" r="0.85"/>
<circle cx="312.2" cy="80.3" r="0.85"/>
<circle cx="312.2" cy="77.5" r="0.85"/>
<circle cx="312.3" cy="85.8" r="0.85"/>
<circle cx="312.4" cy="90.0" r="0.85"/>
<circle cx="312.4" cy="104.0" r="0.85"/>
<circle cx="312.4" cy="90.5" r="0.85"/>
<circle cx="312.5" cy="74.4" r="0.85"/>
<circle cx="312.6" cy="93.7" r="0.85"/>
<circle cx="312.6" cy="68.1" r="0.85"/>
<circle cx="312.7" cy="90.8" r="0.85"/>
<circle cx="312.8" cy="77.0" r="0.85"/>
<circle cx="312.8" cy="89.1" r="0.85"/>
<circle cx="312.9" cy="83.9" r="0.85"/>
<circle cx="313.0" cy="90.9" r="0.85"/>
<circle cx="313.0" cy="75.9" r="0.85"/>
<circle cx="313.1" cy="110.7" r="0.85"/>
<circle cx="313.2" cy="87.8" r="0.85"/>
<circle cx="313.2" cy="89.0" r="0.85"/>
<circle cx="313.3" cy="86.0" r="0.85"/>
<circle cx="313.3" cy="84.4" r="0.85"/>
<circle cx="313.4" cy="83.3" r="0.85"/>
<circle cx="313.5" cy="93.4" r="0.85"/>
<circle cx="313.6" cy="78.2" r="0.85"/>
<circle cx="313.6" cy="91.5" r="0.85"/>
<circle cx="313.7" cy="84.5" r="0.85"/>
<circle cx="313.8" cy="85.6" r="0.85"/>
<circle cx="313.9" cy="91.5" r="0.85"/>
<circle cx="314.0" cy="88.1" r="0.85"/>
<circle cx="314.0" cy="90.8" r="0.85"/>
<circle cx="314.1" cy="94.2" r="0.85"/>
<circle cx="314.1" cy="73.0" r="0.85"/>
<circle cx="314.2" cy="92.5" r="0.85"/>
<circle cx="314.2" cy="91.5" r="0.85"/>
<circle cx="314.3" cy="83.3" r="0.85"/>
<circle cx="314.4" cy="79.2" r="0.85"/>
<circle cx="314.4" cy="90.2" r="0.85"/>
<circle cx="314.5" cy="102.4" r="0.85"/>
<circle cx="314.6" cy="91.5" r="0.85"/>
<circle cx="314.6" cy="87.7" r="0.85"/>
<circle cx="314.7" cy="85.0" r="0.85"/>
<circle cx="314.8" cy="90.4" r="0.85"/>
<circle cx="314.8" cy="86.2" r="0.85"/>
<circle cx="314.9" cy="84.9" r="0.85"/>
<circle cx="315.0" cy="96.9" r="0.85"/>
<circle cx="315.0" cy="100.3" r="0.85"/>
<circle cx="315.1" cy="94.5" r="0.85"/>
<circle cx="315.2" cy="79.1" r="0.85"/>
<circle cx="315.3" cy="91.6" r="0.85"/>
<circle cx="315.3" cy="87.5" r="0.85"/>
<circle cx="315.4" cy="93.4" r="0.85"/>
<circle cx="315.5" cy="92.7" r="0.85"/>
<circle cx="315.5" cy="80.6" r="0.85"/>
<circle cx="315.6" cy="96.5" r="0.85"/>
<circle cx="315.7" cy="89.0" r="0.85"/>
<circle cx="315.8" cy="102.4" r="0.85"/>
<circle cx="315.9" cy="90.9" r="0.85"/>
<circle cx="315.9" cy="81.6" r="0.85"/>
<circle cx="316.0" cy="98.9" r="0.85"/>
<circle cx="316.0" cy="99.1" r="0.85"/>
<circle cx="316.2" cy="98.6" r="0.85"/>
<circle cx="316.3" cy="88.2" r="0.85"/>
<circle cx="316.3" cy="94.8" r="0.85"/>
<circle cx="316.4" cy="85.7" r="0.85"/>
<circle cx="316.5" cy="96.3" r="0.85"/>
<circle cx="316.5" cy="90.2" r="0.85"/>
<circle cx="316.7" cy="77.5" r="0.85"/>
<circle cx="316.7" cy="96.0" r="0.85"/>
<circle cx="316.8" cy="101.2" r="0.85"/>
<circle cx="316.9" cy="87.5" r="0.85"/>
<circle cx="317.0" cy="89.0" r="0.85"/>
<circle cx="317.0" cy="90.1" r="0.85"/>
<circle cx="317.1" cy="88.6" r="0.85"/>
<circle cx="317.3" cy="76.0" r="0.85"/>
<circle cx="317.4" cy="84.7" r="0.85"/>
<circle cx="317.4" cy="101.4" r="0.85"/>
<circle cx="317.5" cy="101.7" r="0.85"/>
<circle cx="317.6" cy="93.9" r="0.85"/>
<circle cx="317.6" cy="105.3" r="0.85"/>
<circle cx="317.7" cy="102.4" r="0.85"/>
<circle cx="317.8" cy="92.3" r="0.85"/>
<circle cx="317.9" cy="102.8" r="0.85"/>
<circle cx="317.9" cy="97.5" r="0.85"/>
<circle cx="318.0" cy="85.6" r="0.85"/>
<circle cx="318.1" cy="72.7" r="0.85"/>
<circle cx="318.2" cy="90.9" r="0.85"/>
<circle cx="318.3" cy="90.7" r="0.85"/>
<circle cx="318.3" cy="100.1" r="0.85"/>
<circle cx="318.4" cy="104.0" r="0.85"/>
<circle cx="318.5" cy="93.3" r="0.85"/>
<circle cx="318.5" cy="85.3" r="0.85"/>
<circle cx="318.6" cy="88.0" r="0.85"/>
<circle cx="318.7" cy="89.6" r="0.85"/>
<circle cx="318.8" cy="92.1" r="0.85"/>
<circle cx="318.9" cy="89.2" r="0.85"/>
<circle cx="318.9" cy="94.6" r="0.85"/>
<circle cx="319.0" cy="97.4" r="0.85"/>
<circle cx="319.2" cy="102.3" r="0.85"/>
<circle cx="319.2" cy="91.0" r="0.85"/>
<circle cx="319.4" cy="85.6" r="0.85"/>
<circle cx="319.4" cy="81.9" r="0.85"/>
<circle cx="319.5" cy="104.8" r="0.85"/>
<circle cx="319.6" cy="106.3" r="0.85"/>
<circle cx="319.7" cy="95.3" r="0.85"/>
<circle cx="319.8" cy="86.0" r="0.85"/>
<circle cx="319.8" cy="96.1" r="0.85"/>
<circle cx="319.9" cy="101.9" r="0.85"/>
<circle cx="320.0" cy="104.6" r="0.85"/>
<circle cx="320.1" cy="105.3" r="0.85"/>
<circle cx="320.2" cy="91.8" r="0.85"/>
<circle cx="320.3" cy="92.8" r="0.85"/>
<circle cx="320.4" cy="87.4" r="0.85"/>
<circle cx="320.5" cy="92.4" r="0.85"/>
<circle cx="320.6" cy="97.6" r="0.85"/>
<circle cx="320.6" cy="102.2" r="0.85"/>
<circle cx="320.7" cy="93.9" r="0.85"/>
<circle cx="320.8" cy="101.8" r="0.85"/>
<circle cx="321.0" cy="104.9" r="0.85"/>
<circle cx="321.1" cy="91.9" r="0.85"/>
<circle cx="321.2" cy="87.0" r="0.85"/>
<circle cx="321.2" cy="97.0" r="0.85"/>
<circle cx="321.4" cy="93.9" r="0.85"/>
<circle cx="321.4" cy="103.8" r="0.85"/>
<circle cx="321.5" cy="100.7" r="0.85"/>
<circle cx="321.6" cy="104.9" r="0.85"/>
<circle cx="321.8" cy="85.2" r="0.85"/>
<circle cx="321.9" cy="89.7" r="0.85"/>
<circle cx="322.0" cy="106.0" r="0.85"/>
<circle cx="322.1" cy="87.9" r="0.85"/>
<circle cx="322.2" cy="95.7" r="0.85"/>
<circle cx="322.5" cy="92.6" r="0.85"/>
<circle cx="322.6" cy="94.3" r="0.85"/>
<circle cx="322.7" cy="91.0" r="0.85"/>
<circle cx="322.8" cy="99.0" r="0.85"/>
<circle cx="323.0" cy="90.7" r="0.85"/>
<circle cx="323.1" cy="96.4" r="0.85"/>
<circle cx="323.2" cy="91.2" r="0.85"/>
<circle cx="323.3" cy="95.8" r="0.85"/>
<circle cx="323.4" cy="91.8" r="0.85"/>
<circle cx="323.6" cy="110.5" r="0.85"/>
<circle cx="323.7" cy="99.6" r="0.85"/>
<circle cx="323.9" cy="105.9" r="0.85"/>
<circle cx="323.9" cy="94.5" r="0.85"/>
<circle cx="324.2" cy="93.3" r="0.85"/>
<circle cx="324.3" cy="79.7" r="0.85"/>
<circle cx="324.4" cy="116.9" r="0.85"/>
<circle cx="324.5" cy="94.2" r="0.85"/>
<circle cx="324.8" cy="73.7" r="0.85"/>
<circle cx="324.9" cy="97.5" r="0.85"/>
<circle cx="325.1" cy="95.8" r="0.85"/>
<circle cx="325.1" cy="99.3" r="0.85"/>
<circle cx="325.3" cy="95.2" r="0.85"/>
<circle cx="325.5" cy="88.1" r="0.85"/>
<circle cx="325.6" cy="86.6" r="0.85"/>
<circle cx="325.8" cy="97.3" r="0.85"/>
<circle cx="325.9" cy="101.6" r="0.85"/>
<circle cx="326.2" cy="98.7" r="0.85"/>
<circle cx="326.3" cy="99.6" r="0.85"/>
<circle cx="326.4" cy="102.8" r="0.85"/>
<circle cx="326.5" cy="90.4" r="0.85"/>
<circle cx="326.7" cy="96.0" r="0.85"/>
<circle cx="327.0" cy="102.3" r="0.85"/>
<circle cx="327.0" cy="103.2" r="0.85"/>
<circle cx="327.2" cy="100.4" r="0.85"/>
<circle cx="327.4" cy="95.6" r="0.85"/>
<circle cx="327.6" cy="89.2" r="0.85"/>
<circle cx="327.7" cy="80.7" r="0.85"/>
<circle cx="327.8" cy="90.9" r="0.85"/>
<circle cx="328.1" cy="88.9" r="0.85"/>
<circle cx="328.3" cy="98.4" r="0.85"/>
<circle cx="328.4" cy="82.5" r="0.85"/>
<circle cx="328.6" cy="92.4" r="0.85"/>
<circle cx="328.8" cy="84.1" r="0.85"/>
<circle cx="328.9" cy="96.6" r="0.85"/>
<circle cx="329.2" cy="91.2" r="0.85"/>
<circle cx="329.2" cy="92.8" r="0.85"/>
<circle cx="329.5" cy="97.2" r="0.85"/>
<circle cx="329.8" cy="100.6" r="0.85"/>
<circle cx="329.8" cy="102.9" r="0.85"/>
<circle cx="330.0" cy="113.6" r="0.85"/>
<circle cx="330.2" cy="103.2" r="0.85"/>
<circle cx="330.5" cy="94.1" r="0.85"/>
<circle cx="330.6" cy="98.2" r="0.85"/>
<circle cx="330.8" cy="76.9" r="0.85"/>
<circle cx="331.0" cy="81.6" r="0.85"/>
<circle cx="331.1" cy="80.1" r="0.85"/>
<circle cx="331.4" cy="85.2" r="0.85"/>
<circle cx="331.5" cy="94.2" r="0.85"/>
<circle cx="331.7" cy="87.7" r="0.85"/>
<circle cx="331.9" cy="95.6" r="0.85"/>
<circle cx="332.2" cy="98.9" r="0.85"/>
<circle cx="332.3" cy="92.6" r="0.85"/>
<circle cx="332.5" cy="95.2" r="0.85"/>
<circle cx="332.7" cy="103.7" r="0.85"/>
<circle cx="333.0" cy="97.1" r="0.85"/>
<circle cx="333.2" cy="96.6" r="0.85"/>
<circle cx="333.4" cy="110.2" r="0.85"/>
<circle cx="333.5" cy="109.6" r="0.85"/>
<circle cx="333.8" cy="99.3" r="0.85"/>
<circle cx="334.0" cy="94.2" r="0.85"/>
<circle cx="334.2" cy="95.5" r="0.85"/>
<circle cx="334.4" cy="80.3" r="0.85"/>
<circle cx="334.6" cy="102.4" r="0.85"/>
<circle cx="334.8" cy="97.4" r="0.85"/>
<circle cx="335.0" cy="97.2" r="0.85"/>
<circle cx="335.3" cy="102.7" r="0.85"/>
<circle cx="335.5" cy="88.8" r="0.85"/>
<circle cx="335.7" cy="107.3" r="0.85"/>
<circle cx="336.0" cy="91.8" r="0.85"/>
<circle cx="336.3" cy="87.2" r="0.85"/>
<circle cx="336.6" cy="100.2" r="0.85"/>
<circle cx="336.7" cy="103.1" r="0.85"/>
<circle cx="337.0" cy="98.6" r="0.85"/>
<circle cx="337.3" cy="99.2" r="0.85"/>
<circle cx="337.5" cy="108.7" r="0.85"/>
<circle cx="337.5" cy="98.7" r="0.85"/>
<circle cx="337.9" cy="108.3" r="0.85"/>
<circle cx="338.2" cy="93.4" r="0.85"/>
<circle cx="338.4" cy="93.5" r="0.85"/>
<circle cx="338.7" cy="96.4" r="0.85"/>
<circle cx="338.8" cy="110.8" r="0.85"/>
<circle cx="339.3" cy="102.8" r="0.85"/>
<circle cx="339.5" cy="85.0" r="0.85"/>
<circle cx="339.8" cy="104.1" r="0.85"/>
<circle cx="340.0" cy="101.2" r="0.85"/>
<circle cx="340.3" cy="100.7" r="0.85"/>
<circle cx="340.6" cy="100.5" r="0.85"/>
<circle cx="341.0" cy="87.5" r="0.85"/>
<circle cx="341.2" cy="101.5" r="0.85"/>
<circle cx="341.7" cy="92.7" r="0.85"/>
<circle cx="341.9" cy="105.4" r="0.85"/>
<circle cx="382.8" cy="104.4" r="0.85"/>
<circle cx="392.0" cy="105.7" r="0.85"/>
<circle cx="372.0" cy="104.4" r="0.85"/>
<circle cx="369.8" cy="99.2" r="0.85"/>
<circle cx="368.5" cy="104.9" r="0.85"/>
<circle cx="366.0" cy="105.9" r="0.85"/>
<circle cx="368.5" cy="108.2" r="0.85"/>
<circle cx="367.2" cy="109.9" r="0.85"/>
<circle cx="365.0" cy="111.7" r="0.85"/>
<circle cx="367.2" cy="113.5" r="0.85"/>
<circle cx="363.8" cy="99.2" r="0.85"/>
<circle cx="362.5" cy="95.2" r="0.85"/>
<circle cx="361.5" cy="101.2" r="0.85"/>
<circle cx="361.5" cy="103.7" r="0.85"/>
<circle cx="361.5" cy="105.5" r="0.85"/>
<circle cx="357.5" cy="101.2" r="0.85"/>
<circle cx="358.5" cy="101.5" r="0.85"/>
<circle cx="359.2" cy="102.9" r="0.85"/>
<circle cx="358.0" cy="107.5" r="0.85"/>
<circle cx="358.0" cy="112.0" r="0.85"/>
<circle cx="359.0" cy="112.7" r="0.85"/>
<circle cx="354.2" cy="95.5" r="0.85"/>
<circle cx="355.5" cy="98.2" r="0.85"/>
<circle cx="354.5" cy="99.7" r="0.85"/>
<circle cx="352.0" cy="89.7" r="0.85"/>
<circle cx="351.5" cy="103.2" r="0.85"/>
<circle cx="353.0" cy="104.7" r="0.85"/>
<circle cx="351.0" cy="113.7" r="0.85"/>
<circle cx="349.5" cy="96.2" r="0.85"/>
<circle cx="347.2" cy="96.2" r="0.85"/>
<circle cx="347.5" cy="100.2" r="0.85"/>
<circle cx="347.8" cy="101.7" r="0.85"/>
<circle cx="347.0" cy="102.7" r="0.85"/>
<circle cx="345.0" cy="98.7" r="0.85"/>
<circle cx="345.5" cy="101.2" r="0.85"/>
<circle cx="344.0" cy="101.7" r="0.85"/>
<circle cx="342.5" cy="94.2" r="0.85"/>
<circle cx="342.0" cy="96.2" r="0.85"/>
<circle cx="342.5" cy="97.7" r="0.85"/>
<circle cx="343.5" cy="90.7" r="0.85"/>
<circle cx="342.0" cy="104.2" r="0.85"/>
<circle cx="342.5" cy="105.2" r="0.85"/>
<circle cx="396.0" cy="104.1" r="0.85"/>
<circle cx="310.0" cy="62.1" r="0.85"/>
<circle cx="310.6" cy="64.1" r="0.85"/>
<circle cx="312.6" cy="67.3" r="0.85"/>
<circle cx="314.0" cy="117.3" r="0.85"/>
</g>
</g>
<g transform="translate(0,158.3)">
<text x="423.2" y="35.4" font-size="8.0" fill="#333" stroke="#333" stroke-width="0.15">(H)</text>
<text x="491.3" y="48.7" font-size="8.0" fill="#333" stroke="#333" stroke-width="0.15"><tspan font-style="italic">r</tspan> = − 0.496</text>
<text x="491.3" y="60.55" font-size="8.0" fill="#333" stroke="#333" stroke-width="0.15"><tspan font-style="italic">p</tspan> &lt; 0.001</text>
<line x1="437.6" y1="88.3" x2="526.0" y2="119.9" stroke="#cdcdcd" stroke-width="0.9"/>
<path d="M437.6 47.8V120.0H543.2" fill="none" stroke="#a0a0a0" stroke-width="0.85"/>
<line x1="433.20000000000005" y1="120.00" x2="437.6" y2="120.00" stroke="#a0a0a0" stroke-width="0.85"/>
<text x="431.2" y="122.80" text-anchor="end" font-size="7.8" fill="#333" stroke="#333" stroke-width="0.15">0</text>
<line x1="433.20000000000005" y1="98.23" x2="437.6" y2="98.23" stroke="#a0a0a0" stroke-width="0.85"/>
<text x="431.2" y="101.03" text-anchor="end" font-size="7.8" fill="#333" stroke="#333" stroke-width="0.15">20</text>
<line x1="433.20000000000005" y1="76.47" x2="437.6" y2="76.47" stroke="#a0a0a0" stroke-width="0.85"/>
<text x="431.2" y="79.27" text-anchor="end" font-size="7.8" fill="#333" stroke="#333" stroke-width="0.15">40</text>
<line x1="433.20000000000005" y1="54.70" x2="437.6" y2="54.70" stroke="#a0a0a0" stroke-width="0.85"/>
<text x="431.2" y="57.50" text-anchor="end" font-size="7.8" fill="#333" stroke="#333" stroke-width="0.15">60</text>
<line x1="442.80" y1="120.0" x2="442.80" y2="124.5" stroke="#a0a0a0" stroke-width="0.85"/>
<text x="442.80" y="132.90" text-anchor="middle" font-size="7.8" fill="#333" stroke="#333" stroke-width="0.15">0</text>
<line x1="469.90" y1="120.0" x2="469.90" y2="124.5" stroke="#a0a0a0" stroke-width="0.85"/>
<text x="469.90" y="132.90" text-anchor="middle" font-size="7.8" fill="#333" stroke="#333" stroke-width="0.15">20</text>
<line x1="497.00" y1="120.0" x2="497.00" y2="124.5" stroke="#a0a0a0" stroke-width="0.85"/>
<text x="497.00" y="132.90" text-anchor="middle" font-size="7.8" fill="#333" stroke="#333" stroke-width="0.15">40</text>
<line x1="524.10" y1="120.0" x2="524.10" y2="124.5" stroke="#a0a0a0" stroke-width="0.85"/>
<text x="524.10" y="132.90" text-anchor="middle" font-size="7.8" fill="#333" stroke="#333" stroke-width="0.15">60</text>
<text x="488.3" y="144.3" text-anchor="middle" font-size="8.1" font-weight="bold" fill="#111" stroke="#111" stroke-width="0.2">Hip fracture (%)</text>
<text transform="translate(418.1,82.6) rotate(-90)" text-anchor="middle" font-size="8.1" font-weight="bold" fill="#111" stroke="#111" stroke-width="0.2">Handgrip strength (kg)</text>
<g fill="#3b55b2">
<circle cx="443.3" cy="90.0" r="0.85"/>
<circle cx="443.4" cy="93.1" r="0.85"/>
<circle cx="443.4" cy="90.0" r="0.85"/>
<circle cx="443.4" cy="90.9" r="0.85"/>
<circle cx="443.4" cy="94.9" r="0.85"/>
<circle cx="443.5" cy="76.5" r="0.85"/>
<circle cx="443.5" cy="95.5" r="0.85"/>
<circle cx="443.5" cy="80.7" r="0.85"/>
<circle cx="443.5" cy="75.1" r="0.85"/>
<circle cx="443.5" cy="80.5" r="0.85"/>
<circle cx="443.6" cy="84.8" r="0.85"/>
<circle cx="443.6" cy="87.8" r="0.85"/>
<circle cx="443.6" cy="83.5" r="0.85"/>
<circle cx="443.7" cy="91.9" r="0.85"/>
<circle cx="443.7" cy="88.0" r="0.85"/>
<circle cx="443.7" cy="98.8" r="0.85"/>
<circle cx="443.8" cy="71.0" r="0.85"/>
<circle cx="443.8" cy="85.5" r="0.85"/>
<circle cx="443.8" cy="86.3" r="0.85"/>
<circle cx="443.9" cy="95.3" r="0.85"/>
<circle cx="443.9" cy="82.9" r="0.85"/>
<circle cx="443.9" cy="76.7" r="0.85"/>
<circle cx="444.0" cy="89.3" r="0.85"/>
<circle cx="444.0" cy="84.4" r="0.85"/>
<circle cx="444.1" cy="90.7" r="0.85"/>
<circle cx="444.1" cy="102.5" r="0.85"/>
<circle cx="444.1" cy="87.6" r="0.85"/>
<circle cx="444.2" cy="94.5" r="0.85"/>
<circle cx="444.2" cy="103.9" r="0.85"/>
<circle cx="444.3" cy="96.2" r="0.85"/>
<circle cx="444.3" cy="79.3" r="0.85"/>
<circle cx="444.4" cy="86.6" r="0.85"/>
<circle cx="444.4" cy="71.7" r="0.85"/>
<circle cx="444.5" cy="94.4" r="0.85"/>
<circle cx="444.5" cy="103.4" r="0.85"/>
<circle cx="444.5" cy="97.5" r="0.85"/>
<circle cx="444.6" cy="106.2" r="0.85"/>
<circle cx="444.6" cy="82.0" r="0.85"/>
<circle cx="444.6" cy="103.4" r="0.85"/>
<circle cx="444.6" cy="87.7" r="0.85"/>
<circle cx="444.7" cy="98.9" r="0.85"/>
<circle cx="444.7" cy="88.6" r="0.85"/>
<circle cx="444.7" cy="85.8" r="0.85"/>
<circle cx="444.8" cy="103.7" r="0.85"/>
<circle cx="444.8" cy="72.9" r="0.85"/>
<circle cx="444.8" cy="99.6" r="0.85"/>
<circle cx="444.8" cy="93.2" r="0.85"/>
<circle cx="444.9" cy="91.3" r="0.85"/>
<circle cx="444.9" cy="81.1" r="0.85"/>
<circle cx="444.9" cy="80.9" r="0.85"/>
<circle cx="445.0" cy="94.3" r="0.85"/>
<circle cx="445.0" cy="92.2" r="0.85"/>
<circle cx="445.1" cy="96.6" r="0.85"/>
<circle cx="445.1" cy="99.8" r="0.85"/>
<circle cx="445.1" cy="93.7" r="0.85"/>
<circle cx="445.2" cy="89.3" r="0.85"/>
<circle cx="445.2" cy="80.6" r="0.85"/>
<circle cx="445.3" cy="85.4" r="0.85"/>
<circle cx="445.3" cy="83.1" r="0.85"/>
<circle cx="445.3" cy="107.3" r="0.85"/>
<circle cx="445.4" cy="90.4" r="0.85"/>
<circle cx="445.4" cy="85.4" r="0.85"/>
<circle cx="445.5" cy="91.6" r="0.85"/>
<circle cx="445.5" cy="92.9" r="0.85"/>
<circle cx="445.5" cy="99.0" r="0.85"/>
<circle cx="445.6" cy="96.9" r="0.85"/>
<circle cx="445.6" cy="97.9" r="0.85"/>
<circle cx="445.7" cy="105.8" r="0.85"/>
<circle cx="445.7" cy="85.9" r="0.85"/>
<circle cx="445.8" cy="104.4" r="0.85"/>
<circle cx="445.8" cy="87.3" r="0.85"/>
<circle cx="445.9" cy="89.3" r="0.85"/>
<circle cx="445.9" cy="97.8" r="0.85"/>
<circle cx="446.0" cy="94.2" r="0.85"/>
<circle cx="446.0" cy="87.4" r="0.85"/>
<circle cx="446.1" cy="93.6" r="0.85"/>
<circle cx="446.1" cy="97.8" r="0.85"/>
<circle cx="446.2" cy="86.9" r="0.85"/>
<circle cx="446.3" cy="91.3" r="0.85"/>
<circle cx="446.3" cy="110.1" r="0.85"/>
<circle cx="446.3" cy="86.7" r="0.85"/>
<circle cx="446.4" cy="89.3" r="0.85"/>
<circle cx="446.4" cy="77.7" r="0.85"/>
<circle cx="446.4" cy="90.8" r="0.85"/>
<circle cx="446.5" cy="107.7" r="0.85"/>
<circle cx="446.5" cy="99.3" r="0.85"/>
<circle cx="446.5" cy="81.6" r="0.85"/>
<circle cx="446.6" cy="92.7" r="0.85"/>
<circle cx="446.6" cy="95.6" r="0.85"/>
<circle cx="446.6" cy="100.0" r="0.85"/>
<circle cx="446.7" cy="83.9" r="0.85"/>
<circle cx="446.7" cy="98.9" r="0.85"/>
<circle cx="446.8" cy="106.9" r="0.85"/>
<circle cx="446.8" cy="86.2" r="0.85"/>
<circle cx="446.8" cy="90.6" r="0.85"/>
<circle cx="446.9" cy="92.2" r="0.85"/>
<circle cx="446.9" cy="100.6" r="0.85"/>
<circle cx="446.9" cy="91.6" r="0.85"/>
<circle cx="447.0" cy="84.4" r="0.85"/>
<circle cx="447.0" cy="96.4" r="0.85"/>
<circle cx="447.0" cy="77.7" r="0.85"/>
<circle cx="447.1" cy="104.7" r="0.85"/>
<circle cx="447.1" cy="95.9" r="0.85"/>
<circle cx="447.1" cy="85.2" r="0.85"/>
<circle cx="447.2" cy="86.9" r="0.85"/>
<circle cx="447.3" cy="96.1" r="0.85"/>
<circle cx="447.3" cy="107.4" r="0.85"/>
<circle cx="447.3" cy="96.8" r="0.85"/>
<circle cx="447.4" cy="97.7" r="0.85"/>
<circle cx="447.4" cy="98.7" r="0.85"/>
<circle cx="447.5" cy="95.0" r="0.85"/>
<circle cx="447.5" cy="107.5" r="0.85"/>
<circle cx="447.5" cy="92.8" r="0.85"/>
<circle cx="447.6" cy="87.8" r="0.85"/>
<circle cx="447.6" cy="82.9" r="0.85"/>
<circle cx="447.7" cy="103.9" r="0.85"/>
<circle cx="447.7" cy="91.9" r="0.85"/>
<circle cx="447.8" cy="88.4" r="0.85"/>
<circle cx="447.8" cy="99.1" r="0.85"/>
<circle cx="447.9" cy="80.1" r="0.85"/>
<circle cx="447.9" cy="86.7" r="0.85"/>
<circle cx="448.0" cy="88.2" r="0.85"/>
<circle cx="448.0" cy="89.7" r="0.85"/>
<circle cx="448.0" cy="74.2" r="0.85"/>
<circle cx="448.1" cy="83.5" r="0.85"/>
<circle cx="448.1" cy="73.0" r="0.85"/>
<circle cx="448.2" cy="97.0" r="0.85"/>
<circle cx="448.2" cy="100.1" r="0.85"/>
<circle cx="448.3" cy="89.6" r="0.85"/>
<circle cx="448.3" cy="97.5" r="0.85"/>
<circle cx="448.4" cy="96.8" r="0.85"/>
<circle cx="448.5" cy="98.5" r="0.85"/>
<circle cx="448.5" cy="100.8" r="0.85"/>
<circle cx="448.5" cy="105.0" r="0.85"/>
<circle cx="448.6" cy="103.3" r="0.85"/>
<circle cx="448.7" cy="95.0" r="0.85"/>
<circle cx="448.7" cy="111.1" r="0.85"/>
<circle cx="448.7" cy="95.0" r="0.85"/>
<circle cx="448.8" cy="86.3" r="0.85"/>
<circle cx="448.8" cy="101.2" r="0.85"/>
<circle cx="448.9" cy="94.8" r="0.85"/>
<circle cx="449.0" cy="68.3" r="0.85"/>
<circle cx="449.1" cy="87.0" r="0.85"/>
<circle cx="449.1" cy="92.8" r="0.85"/>
<circle cx="449.1" cy="85.8" r="0.85"/>
<circle cx="449.2" cy="95.1" r="0.85"/>
<circle cx="449.3" cy="90.7" r="0.85"/>
<circle cx="449.3" cy="97.7" r="0.85"/>
<circle cx="449.4" cy="99.4" r="0.85"/>
<circle cx="449.4" cy="99.3" r="0.85"/>
<circle cx="449.5" cy="108.8" r="0.85"/>
<circle cx="449.5" cy="87.3" r="0.85"/>
<circle cx="449.6" cy="96.0" r="0.85"/>
<circle cx="449.7" cy="94.9" r="0.85"/>
<circle cx="449.7" cy="90.6" r="0.85"/>
<circle cx="449.8" cy="92.0" r="0.85"/>
<circle cx="449.9" cy="92.6" r="0.85"/>
<circle cx="450.0" cy="92.8" r="0.85"/>
<circle cx="450.0" cy="97.4" r="0.85"/>
<circle cx="450.1" cy="105.1" r="0.85"/>
<circle cx="450.2" cy="96.4" r="0.85"/>
<circle cx="450.2" cy="110.1" r="0.85"/>
<circle cx="450.3" cy="107.6" r="0.85"/>
<circle cx="450.3" cy="100.6" r="0.85"/>
<circle cx="450.4" cy="101.5" r="0.85"/>
<circle cx="450.5" cy="102.5" r="0.85"/>
<circle cx="450.6" cy="96.5" r="0.85"/>
<circle cx="450.7" cy="88.3" r="0.85"/>
<circle cx="450.8" cy="113.9" r="0.85"/>
<circle cx="450.8" cy="83.7" r="0.85"/>
<circle cx="450.8" cy="102.5" r="0.85"/>
<circle cx="451.0" cy="102.2" r="0.85"/>
<circle cx="451.0" cy="98.9" r="0.85"/>
<circle cx="451.1" cy="101.2" r="0.85"/>
<circle cx="451.2" cy="97.0" r="0.85"/>
<circle cx="451.3" cy="97.0" r="0.85"/>
<circle cx="451.3" cy="86.9" r="0.85"/>
<circle cx="451.4" cy="98.9" r="0.85"/>
<circle cx="451.5" cy="97.7" r="0.85"/>
<circle cx="451.6" cy="101.8" r="0.85"/>
<circle cx="451.7" cy="100.7" r="0.85"/>
<circle cx="451.8" cy="99.4" r="0.85"/>
<circle cx="451.8" cy="87.1" r="0.85"/>
<circle cx="451.9" cy="101.8" r="0.85"/>
<circle cx="452.1" cy="98.1" r="0.85"/>
<circle cx="452.1" cy="103.6" r="0.85"/>
<circle cx="452.2" cy="86.5" r="0.85"/>
<circle cx="452.3" cy="94.9" r="0.85"/>
<circle cx="452.4" cy="99.0" r="0.85"/>
<circle cx="452.4" cy="101.3" r="0.85"/>
<circle cx="452.5" cy="82.6" r="0.85"/>
<circle cx="452.7" cy="113.6" r="0.85"/>
<circle cx="452.8" cy="95.4" r="0.85"/>
<circle cx="452.9" cy="95.3" r="0.85"/>
<circle cx="452.9" cy="95.8" r="0.85"/>
<circle cx="453.0" cy="100.6" r="0.85"/>
<circle cx="453.2" cy="93.5" r="0.85"/>
<circle cx="453.3" cy="104.2" r="0.85"/>
<circle cx="453.3" cy="99.5" r="0.85"/>
<circle cx="453.4" cy="105.6" r="0.85"/>
<circle cx="453.5" cy="105.7" r="0.85"/>
<circle cx="453.7" cy="105.8" r="0.85"/>
<circle cx="453.7" cy="112.9" r="0.85"/>
<circle cx="453.9" cy="95.4" r="0.85"/>
<circle cx="453.9" cy="102.6" r="0.85"/>
<circle cx="454.0" cy="98.9" r="0.85"/>
<circle cx="454.1" cy="89.1" r="0.85"/>
<circle cx="454.3" cy="95.9" r="0.85"/>
<circle cx="454.4" cy="106.7" r="0.85"/>
<circle cx="454.4" cy="89.0" r="0.85"/>
<circle cx="454.5" cy="104.2" r="0.85"/>
<circle cx="454.7" cy="111.0" r="0.85"/>
<circle cx="454.8" cy="92.5" r="0.85"/>
<circle cx="454.9" cy="92.3" r="0.85"/>
<circle cx="455.0" cy="99.2" r="0.85"/>
<circle cx="455.1" cy="102.1" r="0.85"/>
<circle cx="455.3" cy="94.0" r="0.85"/>
<circle cx="455.4" cy="101.0" r="0.85"/>
<circle cx="455.5" cy="86.3" r="0.85"/>
<circle cx="455.7" cy="105.4" r="0.85"/>
<circle cx="455.7" cy="103.1" r="0.85"/>
<circle cx="455.8" cy="108.4" r="0.85"/>
<circle cx="456.0" cy="88.8" r="0.85"/>
<circle cx="456.1" cy="95.7" r="0.85"/>
<circle cx="456.2" cy="99.5" r="0.85"/>
<circle cx="456.4" cy="106.9" r="0.85"/>
<circle cx="456.5" cy="108.5" r="0.85"/>
<circle cx="456.7" cy="89.8" r="0.85"/>
<circle cx="456.8" cy="92.1" r="0.85"/>
<circle cx="456.9" cy="96.6" r="0.85"/>
<circle cx="457.0" cy="98.1" r="0.85"/>
<circle cx="457.1" cy="99.9" r="0.85"/>
<circle cx="457.4" cy="86.0" r="0.85"/>
<circle cx="457.4" cy="97.6" r="0.85"/>
<circle cx="457.6" cy="100.8" r="0.85"/>
<circle cx="457.9" cy="94.2" r="0.85"/>
<circle cx="457.9" cy="95.1" r="0.85"/>
<circle cx="458.1" cy="108.6" r="0.85"/>
<circle cx="458.3" cy="94.6" r="0.85"/>
<circle cx="458.4" cy="103.9" r="0.85"/>
<circle cx="458.6" cy="105.5" r="0.85"/>
<circle cx="458.8" cy="106.0" r="0.85"/>
<circle cx="459.0" cy="102.4" r="0.85"/>
<circle cx="459.2" cy="113.8" r="0.85"/>
<circle cx="459.3" cy="107.8" r="0.85"/>
<circle cx="459.5" cy="108.2" r="0.85"/>
<circle cx="459.6" cy="108.9" r="0.85"/>
<circle cx="459.8" cy="96.8" r="0.85"/>
<circle cx="460.0" cy="104.0" r="0.85"/>
<circle cx="460.2" cy="101.3" r="0.85"/>
<circle cx="460.5" cy="104.5" r="0.85"/>
<circle cx="460.5" cy="101.7" r="0.85"/>
<circle cx="460.8" cy="97.6" r="0.85"/>
<circle cx="461.0" cy="102.9" r="0.85"/>
<circle cx="461.2" cy="86.7" r="0.85"/>
<circle cx="461.4" cy="93.9" r="0.85"/>
<circle cx="461.5" cy="97.9" r="0.85"/>
<circle cx="461.7" cy="86.6" r="0.85"/>
<circle cx="461.9" cy="96.3" r="0.85"/>
<circle cx="508.0" cy="104.4" r="0.85"/>
<circle cx="494.3" cy="99.4" r="0.85"/>
<circle cx="485.0" cy="89.5" r="0.85"/>
<circle cx="485.0" cy="97.9" r="0.85"/>
<circle cx="483.5" cy="100.9" r="0.85"/>
<circle cx="490.2" cy="103.5" r="0.85"/>
<circle cx="490.2" cy="104.9" r="0.85"/>
<circle cx="482.0" cy="104.2" r="0.85"/>
<circle cx="482.0" cy="105.7" r="0.85"/>
<circle cx="479.5" cy="105.7" r="0.85"/>
<circle cx="478.0" cy="108.5" r="0.85"/>
<circle cx="486.3" cy="109.7" r="0.85"/>
<circle cx="486.3" cy="111.5" r="0.85"/>
<circle cx="476.5" cy="99.7" r="0.85"/>
<circle cx="477.5" cy="101.2" r="0.85"/>
<circle cx="475.5" cy="101.7" r="0.85"/>
<circle cx="476.5" cy="102.9" r="0.85"/>
<circle cx="475.5" cy="94.7" r="0.85"/>
<circle cx="472.8" cy="94.9" r="0.85"/>
<circle cx="467.2" cy="84.7" r="0.85"/>
<circle cx="467.2" cy="94.2" r="0.85"/>
<circle cx="467.2" cy="95.7" r="0.85"/>
<circle cx="469.8" cy="96.2" r="0.85"/>
<circle cx="468.5" cy="99.2" r="0.85"/>
<circle cx="471.0" cy="100.7" r="0.85"/>
<circle cx="470.5" cy="102.2" r="0.85"/>
<circle cx="468.5" cy="102.9" r="0.85"/>
<circle cx="464.5" cy="99.7" r="0.85"/>
<circle cx="465.5" cy="100.7" r="0.85"/>
<circle cx="462.5" cy="100.2" r="0.85"/>
<circle cx="462.0" cy="90.7" r="0.85"/>
<circle cx="462.0" cy="95.7" r="0.85"/>
<circle cx="463.0" cy="96.7" r="0.85"/>
<circle cx="464.5" cy="105.2" r="0.85"/>
<circle cx="470.0" cy="107.2" r="0.85"/>
<circle cx="472.8" cy="111.7" r="0.85"/>
<circle cx="464.5" cy="112.2" r="0.85"/>
<circle cx="527.0" cy="104.7" r="0.85"/>
<circle cx="528.4" cy="105.7" r="0.85"/>
<circle cx="443.0" cy="62.1" r="0.85"/>
<circle cx="443.0" cy="64.1" r="0.85"/>
<circle cx="443.0" cy="67.3" r="0.85"/>
<circle cx="443.6" cy="117.7" r="0.85"/>
</g>
</g>
</svg>
</body></html>
